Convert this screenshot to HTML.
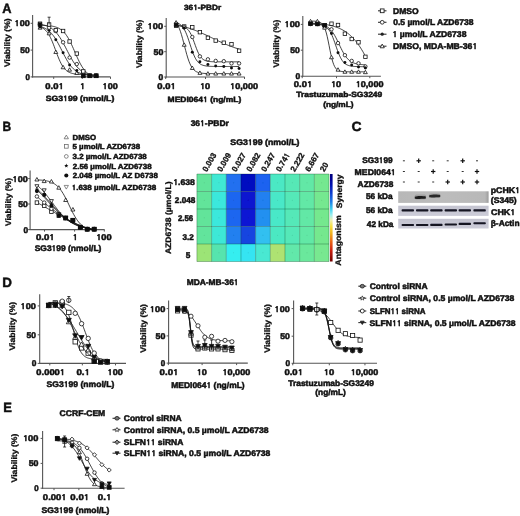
<!DOCTYPE html>
<html><head><meta charset="utf-8"><title>Figure</title>
<style>html,body{margin:0;padding:0;background:#fff;}svg{display:block;}
text{font-family:'Liberation Sans', Arial, sans-serif;font-weight:bold;stroke:#111;stroke-width:0.3px;text-rendering:geometricPrecision;}
.o{font-family:'NanumGothic','Liberation Sans',sans-serif;font-size:0.92em;}</style></head>
<body><svg width="520" height="516" viewBox="0 0 520 516">
<defs><filter id="soft" x="0" y="0" width="100%" height="100%"><feGaussianBlur stdDeviation="0.35"/></filter></defs>
<g filter="url(#soft)">
<rect width="520" height="516" fill="#fff"/>
<text id="t0" x="2.36" y="12.55" font-size="13.4" textLength="9.28" lengthAdjust="spacingAndGlyphs" fill="#111" style="stroke-width:0.45px">A</text>
<text id="t1" x="2.51" y="130.65" font-size="13.4" textLength="8.66" lengthAdjust="spacingAndGlyphs" fill="#111" style="stroke-width:0.45px">B</text>
<text id="t2" x="351.50" y="130.65" font-size="13.4" textLength="10.03" lengthAdjust="spacingAndGlyphs" fill="#111" style="stroke-width:0.45px">C</text>
<text id="t3" x="2.17" y="286.95" font-size="13.4" textLength="9.66" lengthAdjust="spacingAndGlyphs" fill="#111" style="stroke-width:0.45px">D</text>
<text id="t4" x="3.23" y="412.25" font-size="13.4" textLength="8.66" lengthAdjust="spacingAndGlyphs" fill="#111" style="stroke-width:0.45px">E</text>
<line x1="32.60" y1="15.00" x2="32.60" y2="77.40" stroke="#555" stroke-width="1.1"/>
<line x1="32.10" y1="76.90" x2="110.50" y2="76.90" stroke="#555" stroke-width="1.1"/>
<line x1="30.60" y1="23.30" x2="32.60" y2="23.30" stroke="#555" stroke-width="1.0"/>
<text id="t5" x="14.60" y="26.38" font-size="8.3" textLength="15.11" lengthAdjust="spacingAndGlyphs" fill="#111" style="stroke-width:0.5px"><tspan class="o">1</tspan>00</text>
<line x1="30.60" y1="50.10" x2="32.60" y2="50.10" stroke="#555" stroke-width="1.0"/>
<text id="t6" x="20.21" y="53.18" font-size="8.3" textLength="9.39" lengthAdjust="spacingAndGlyphs" fill="#111" style="stroke-width:0.5px">50</text>
<line x1="30.60" y1="76.90" x2="32.60" y2="76.90" stroke="#555" stroke-width="1.0"/>
<text id="t7" x="25.44" y="79.98" font-size="8.3" textLength="4.44" lengthAdjust="spacingAndGlyphs" fill="#111" style="stroke-width:0.5px">0</text>
<line x1="53.70" y1="76.90" x2="53.70" y2="78.90" stroke="#555" stroke-width="1.0"/>
<text id="t8" x="45.27" y="88.58" font-size="8.3" textLength="18.47" lengthAdjust="spacingAndGlyphs" fill="#111" style="stroke-width:0.5px">0.0<tspan class="o">1</tspan></text>
<line x1="82.30" y1="76.90" x2="82.30" y2="78.90" stroke="#555" stroke-width="1.0"/>
<text id="t9" x="79.91" y="88.58" font-size="8.3" textLength="5.06" lengthAdjust="spacingAndGlyphs" fill="#111" style="stroke-width:0.5px"><tspan class="o">1</tspan></text>
<line x1="110.50" y1="76.90" x2="110.50" y2="78.90" stroke="#555" stroke-width="1.0"/>
<text id="t10" x="102.64" y="88.58" font-size="8.3" textLength="15.12" lengthAdjust="spacingAndGlyphs" fill="#111" style="stroke-width:0.5px"><tspan class="o">1</tspan>00</text>
<path d="M40.00,26.90 L40.95,27.25 L41.91,27.67 L42.86,28.19 L43.81,28.81 L44.76,29.55 L45.72,30.44 L46.67,31.48 L47.62,32.71 L48.57,34.12 L49.53,35.75 L50.48,37.58 L51.43,39.62 L52.38,41.84 L53.34,44.23 L54.29,46.73 L55.24,49.31 L56.19,51.89 L57.15,54.44 L58.10,56.89 L59.05,59.20 L60.00,61.34 L60.96,63.28 L61.91,65.01 L62.86,66.53 L63.81,67.85 L64.77,68.98 L65.72,69.95 L66.67,70.76 L67.62,71.44 L68.58,72.01 L69.53,72.48 L70.48,72.87 L71.43,73.18 L72.39,73.44 L73.34,73.66 L74.29,73.83 L75.24,73.98 L76.20,74.09 L77.15,74.19 L78.10,74.26 L79.05,74.32 L80.01,74.37 L80.96,74.42 L81.91,74.45 L82.86,74.48 L83.82,74.50 L84.77,74.52 L85.72,74.53 L86.67,74.54 L87.63,74.55 L88.58,74.56 L89.53,74.57 L90.48,74.57 L91.44,74.57 L92.39,74.58 L93.34,74.58 L94.29,74.58 L95.25,74.58 L96.20,74.59" fill="none" stroke="#111" stroke-width="0.8"/>
<path d="M40.00,25.75 L41.95,29.16 L38.05,29.16 Z" fill="#fff" stroke="#111" stroke-width="0.8"/>
<path d="M49.10,31.45 L51.05,34.86 L47.15,34.86 Z" fill="#fff" stroke="#111" stroke-width="0.8"/>
<path d="M55.80,50.05 L57.75,53.46 L53.85,53.46 Z" fill="#fff" stroke="#111" stroke-width="0.8"/>
<path d="M63.10,65.35 L65.05,68.76 L61.15,68.76 Z" fill="#fff" stroke="#111" stroke-width="0.8"/>
<path d="M69.60,67.75 L71.55,71.16 L67.65,71.16 Z" fill="#fff" stroke="#111" stroke-width="0.8"/>
<path d="M76.80,71.05 L78.75,74.46 L74.85,74.46 Z" fill="#fff" stroke="#111" stroke-width="0.8"/>
<path d="M83.30,73.45 L85.25,76.86 L81.35,76.86 Z" fill="#fff" stroke="#111" stroke-width="0.8"/>
<path d="M89.80,73.75 L91.75,77.16 L87.85,77.16 Z" fill="#fff" stroke="#111" stroke-width="0.8"/>
<path d="M96.20,73.75 L98.15,77.16 L94.25,77.16 Z" fill="#fff" stroke="#111" stroke-width="0.8"/>
<path d="M40.00,26.47 L40.95,26.72 L41.91,27.02 L42.86,27.35 L43.81,27.74 L44.76,28.18 L45.72,28.68 L46.67,29.24 L47.62,29.88 L48.57,30.60 L49.53,31.41 L50.48,32.31 L51.43,33.32 L52.38,34.42 L53.34,35.64 L54.29,36.96 L55.24,38.39 L56.19,39.92 L57.15,41.55 L58.10,43.27 L59.05,45.05 L60.00,46.90 L60.96,48.78 L61.91,50.68 L62.86,52.57 L63.81,54.45 L64.77,56.28 L65.72,58.04 L66.67,59.73 L67.62,61.34 L68.58,62.84 L69.53,64.24 L70.48,65.53 L71.43,66.72 L72.39,67.79 L73.34,68.77 L74.29,69.64 L75.24,70.42 L76.20,71.12 L77.15,71.74 L78.10,72.28 L79.05,72.76 L80.01,73.19 L80.96,73.56 L81.91,73.88 L82.86,74.16 L83.82,74.41 L84.77,74.62 L85.72,74.81 L86.67,74.97 L87.63,75.11 L88.58,75.23 L89.53,75.34 L90.48,75.43 L91.44,75.51 L92.39,75.57 L93.34,75.63 L94.29,75.68 L95.25,75.73 L96.20,75.77" fill="none" stroke="#111" stroke-width="0.8"/>
<circle cx="40.00" cy="26.90" r="1.48" fill="#111"/>
<circle cx="49.10" cy="30.20" r="1.48" fill="#111"/>
<circle cx="55.80" cy="39.80" r="1.48" fill="#111"/>
<circle cx="63.10" cy="52.80" r="1.48" fill="#111"/>
<circle cx="69.60" cy="64.90" r="1.48" fill="#111"/>
<circle cx="76.80" cy="70.50" r="1.48" fill="#111"/>
<circle cx="83.30" cy="74.60" r="1.48" fill="#111"/>
<circle cx="89.80" cy="75.70" r="1.48" fill="#111"/>
<circle cx="96.20" cy="75.70" r="1.48" fill="#111"/>
<path d="M40.00,24.37 L40.95,24.52 L41.91,24.69 L42.86,24.88 L43.81,25.11 L44.76,25.36 L45.72,25.65 L46.67,25.98 L47.62,26.35 L48.57,26.77 L49.53,27.24 L50.48,27.78 L51.43,28.38 L52.38,29.05 L53.34,29.80 L54.29,30.64 L55.24,31.56 L56.19,32.58 L57.15,33.69 L58.10,34.90 L59.05,36.21 L60.00,37.63 L60.96,39.13 L61.91,40.72 L62.86,42.39 L63.81,44.13 L64.77,45.92 L65.72,47.75 L66.67,49.60 L67.62,51.46 L68.58,53.30 L69.53,55.11 L70.48,56.86 L71.43,58.56 L72.39,60.18 L73.34,61.72 L74.29,63.16 L75.24,64.51 L76.20,65.76 L77.15,66.91 L78.10,67.96 L79.05,68.91 L80.01,69.78 L80.96,70.56 L81.91,71.26 L82.86,71.89 L83.82,72.44 L84.77,72.94 L85.72,73.38 L86.67,73.77 L87.63,74.11 L88.58,74.41 L89.53,74.68 L90.48,74.91 L91.44,75.11 L92.39,75.29 L93.34,75.45 L94.29,75.59 L95.25,75.71 L96.20,75.81" fill="none" stroke="#111" stroke-width="0.8"/>
<circle cx="40.00" cy="24.50" r="1.72" fill="#fff" stroke="#111" stroke-width="0.8"/>
<circle cx="49.10" cy="27.70" r="1.72" fill="#fff" stroke="#111" stroke-width="0.8"/>
<circle cx="55.80" cy="31.00" r="1.72" fill="#fff" stroke="#111" stroke-width="0.8"/>
<circle cx="63.10" cy="42.30" r="1.72" fill="#fff" stroke="#111" stroke-width="0.8"/>
<circle cx="69.60" cy="57.60" r="1.72" fill="#fff" stroke="#111" stroke-width="0.8"/>
<circle cx="76.80" cy="64.10" r="1.72" fill="#fff" stroke="#111" stroke-width="0.8"/>
<circle cx="83.30" cy="72.20" r="1.72" fill="#fff" stroke="#111" stroke-width="0.8"/>
<circle cx="89.80" cy="75.70" r="1.72" fill="#fff" stroke="#111" stroke-width="0.8"/>
<circle cx="96.20" cy="75.70" r="1.72" fill="#fff" stroke="#111" stroke-width="0.8"/>
<path d="M40.00,25.24 L40.95,25.26 L41.91,25.29 L42.86,25.32 L43.81,25.36 L44.76,25.40 L45.72,25.46 L46.67,25.52 L47.62,25.59 L48.57,25.68 L49.53,25.78 L50.48,25.90 L51.43,26.04 L52.38,26.20 L53.34,26.39 L54.29,26.61 L55.24,26.87 L56.19,27.18 L57.15,27.53 L58.10,27.94 L59.05,28.41 L60.00,28.96 L60.96,29.59 L61.91,30.31 L62.86,31.14 L63.81,32.08 L64.77,33.13 L65.72,34.32 L66.67,35.64 L67.62,37.10 L68.58,38.70 L69.53,40.44 L70.48,42.29 L71.43,44.27 L72.39,46.33 L73.34,48.47 L74.29,50.65 L75.24,52.85 L76.20,55.04 L77.15,57.19 L78.10,59.26 L79.05,61.25 L80.01,63.13 L80.96,64.88 L81.91,66.50 L82.86,67.98 L83.82,69.32 L84.77,70.52 L85.72,71.60 L86.67,72.55 L87.63,73.39 L88.58,74.13 L89.53,74.77 L90.48,75.33 L91.44,75.82 L92.39,76.24 L93.34,76.60 L94.29,76.91 L95.25,77.17 L96.20,77.40" fill="none" stroke="#111" stroke-width="0.8"/>
<rect x="38.28" y="21.98" width="3.43" height="3.43" fill="#fff" stroke="#111" stroke-width="0.8"/>
<rect x="47.38" y="22.78" width="3.43" height="3.43" fill="#fff" stroke="#111" stroke-width="0.8"/>
<rect x="54.08" y="28.48" width="3.43" height="3.43" fill="#fff" stroke="#111" stroke-width="0.8"/>
<rect x="61.38" y="29.28" width="3.43" height="3.43" fill="#fff" stroke="#111" stroke-width="0.8"/>
<rect x="67.88" y="39.78" width="3.43" height="3.43" fill="#fff" stroke="#111" stroke-width="0.8"/>
<rect x="75.08" y="51.88" width="3.43" height="3.43" fill="#fff" stroke="#111" stroke-width="0.8"/>
<rect x="81.58" y="69.68" width="3.43" height="3.43" fill="#fff" stroke="#111" stroke-width="0.8"/>
<rect x="88.08" y="73.98" width="3.43" height="3.43" fill="#fff" stroke="#111" stroke-width="0.8"/>
<rect x="94.48" y="73.98" width="3.43" height="3.43" fill="#fff" stroke="#111" stroke-width="0.8"/>
<line x1="49.10" y1="17.20" x2="49.10" y2="24.50" stroke="#111" stroke-width="0.8"/>
<line x1="47.60" y1="17.20" x2="50.60" y2="17.20" stroke="#111" stroke-width="0.8"/>
<rect x="81.43" y="73.93" width="3.74" height="3.74" fill="#111" stroke="#111" stroke-width="0.8"/>
<rect x="87.93" y="73.93" width="3.74" height="3.74" fill="#111" stroke="#111" stroke-width="0.8"/>
<rect x="94.33" y="73.93" width="3.74" height="3.74" fill="#111" stroke="#111" stroke-width="0.8"/>
<text id="t11" x="45.69" y="101.47" font-size="7.6" textLength="68.62" lengthAdjust="spacingAndGlyphs" fill="#111" style="stroke-width:0.5px">SG3<tspan class="o">1</tspan>99 (nmol/L)</text>
<text id="t12" x="0" y="0" font-size="8.0" textLength="48.77" lengthAdjust="spacingAndGlyphs" fill="#111" style="stroke-width:0.3px" transform="translate(9.83,67.06) rotate(-90)">Viability (%)</text>
<line x1="166.20" y1="18.00" x2="166.20" y2="77.50" stroke="#555" stroke-width="1.1"/>
<line x1="165.70" y1="77.00" x2="244.70" y2="77.00" stroke="#555" stroke-width="1.1"/>
<line x1="164.20" y1="26.30" x2="166.20" y2="26.30" stroke="#555" stroke-width="1.0"/>
<text id="t13" x="147.64" y="29.38" font-size="8.3" textLength="15.49" lengthAdjust="spacingAndGlyphs" fill="#111" style="stroke-width:0.5px"><tspan class="o">1</tspan>00</text>
<line x1="164.20" y1="51.70" x2="166.20" y2="51.70" stroke="#555" stroke-width="1.0"/>
<text id="t14" x="153.46" y="54.78" font-size="8.3" textLength="9.91" lengthAdjust="spacingAndGlyphs" fill="#111" style="stroke-width:0.5px">50</text>
<line x1="164.20" y1="77.00" x2="166.20" y2="77.00" stroke="#555" stroke-width="1.0"/>
<text id="t15" x="158.60" y="80.08" font-size="8.3" textLength="4.75" lengthAdjust="spacingAndGlyphs" fill="#111" style="stroke-width:0.5px">0</text>
<line x1="165.70" y1="77.00" x2="165.70" y2="79.00" stroke="#555" stroke-width="1.0"/>
<text id="t16" x="157.27" y="88.58" font-size="8.3" textLength="18.47" lengthAdjust="spacingAndGlyphs" fill="#111" style="stroke-width:0.5px">0.0<tspan class="o">1</tspan></text>
<line x1="205.50" y1="77.00" x2="205.50" y2="79.00" stroke="#555" stroke-width="1.0"/>
<text id="t17" x="199.91" y="88.58" font-size="8.3" textLength="10.33" lengthAdjust="spacingAndGlyphs" fill="#111" style="stroke-width:0.5px"><tspan class="o">1</tspan>0</text>
<line x1="244.50" y1="77.00" x2="244.50" y2="79.00" stroke="#555" stroke-width="1.0"/>
<text id="t18" x="230.14" y="88.58" font-size="8.3" textLength="28.03" lengthAdjust="spacingAndGlyphs" fill="#111" style="stroke-width:0.5px"><tspan class="o">1</tspan>0,000</text>
<path d="M176.10,24.77 L177.17,24.99 L178.24,25.23 L179.30,25.47 L180.37,25.72 L181.44,25.98 L182.51,26.25 L183.57,26.54 L184.64,26.83 L185.71,27.14 L186.78,27.46 L187.85,27.79 L188.91,28.13 L189.98,28.49 L191.05,28.85 L192.12,29.23 L193.18,29.61 L194.25,30.01 L195.32,30.42 L196.39,30.84 L197.46,31.27 L198.52,31.72 L199.59,32.17 L200.66,32.63 L201.73,33.09 L202.79,33.57 L203.86,34.05 L204.93,34.54 L206.00,35.04 L207.07,35.54 L208.13,36.05 L209.20,36.56 L210.27,37.07 L211.34,37.58 L212.41,38.10 L213.47,38.61 L214.54,39.13 L215.61,39.64 L216.68,40.15 L217.74,40.66 L218.81,41.16 L219.88,41.66 L220.95,42.15 L222.02,42.63 L223.08,43.11 L224.15,43.58 L225.22,44.05 L226.29,44.50 L227.35,44.94 L228.42,45.38 L229.49,45.80 L230.56,46.21 L231.63,46.61 L232.69,47.01 L233.76,47.38 L234.83,47.75 L235.90,48.11 L236.96,48.45 L238.03,48.79 L239.10,49.11" fill="none" stroke="#111" stroke-width="0.8"/>
<rect x="174.38" y="23.98" width="3.43" height="3.43" fill="#fff" stroke="#111" stroke-width="0.8"/>
<rect x="182.48" y="24.78" width="3.43" height="3.43" fill="#fff" stroke="#111" stroke-width="0.8"/>
<rect x="190.58" y="25.58" width="3.43" height="3.43" fill="#fff" stroke="#111" stroke-width="0.8"/>
<rect x="198.18" y="30.48" width="3.43" height="3.43" fill="#fff" stroke="#111" stroke-width="0.8"/>
<rect x="206.18" y="36.08" width="3.43" height="3.43" fill="#fff" stroke="#111" stroke-width="0.8"/>
<rect x="213.98" y="38.88" width="3.43" height="3.43" fill="#fff" stroke="#111" stroke-width="0.8"/>
<rect x="222.08" y="40.98" width="3.43" height="3.43" fill="#fff" stroke="#111" stroke-width="0.8"/>
<rect x="229.78" y="42.58" width="3.43" height="3.43" fill="#fff" stroke="#111" stroke-width="0.8"/>
<rect x="237.38" y="48.98" width="3.43" height="3.43" fill="#fff" stroke="#111" stroke-width="0.8"/>
<path d="M176.10,25.84 L177.17,25.89 L178.24,25.95 L179.30,26.03 L180.37,26.14 L181.44,26.30 L182.51,26.52 L183.57,26.81 L184.64,27.22 L185.71,27.78 L186.78,28.52 L187.85,29.51 L188.91,30.79 L189.98,32.42 L191.05,34.42 L192.12,36.80 L193.18,39.51 L194.25,42.44 L195.32,45.44 L196.39,48.35 L197.46,51.03 L198.52,53.38 L199.59,55.34 L200.66,56.94 L201.73,58.19 L202.79,59.15 L203.86,59.87 L204.93,60.41 L206.00,60.81 L207.07,61.10 L208.13,61.31 L209.20,61.46 L210.27,61.57 L211.34,61.65 L212.41,61.71 L213.47,61.75 L214.54,61.78 L215.61,61.80 L216.68,61.82 L217.74,61.83 L218.81,61.83 L219.88,61.84 L220.95,61.84 L222.02,61.85 L223.08,61.85 L224.15,61.85 L225.22,61.85 L226.29,61.85 L227.35,61.85 L228.42,61.85 L229.49,61.85 L230.56,61.85 L231.63,61.85 L232.69,61.85 L233.76,61.85 L234.83,61.85 L235.90,61.85 L236.96,61.85 L238.03,61.85 L239.10,61.85" fill="none" stroke="#111" stroke-width="0.8"/>
<circle cx="176.10" cy="25.70" r="1.72" fill="#fff" stroke="#111" stroke-width="0.8"/>
<circle cx="184.20" cy="27.30" r="1.72" fill="#fff" stroke="#111" stroke-width="0.8"/>
<circle cx="192.30" cy="37.00" r="1.72" fill="#fff" stroke="#111" stroke-width="0.8"/>
<circle cx="199.90" cy="56.40" r="1.72" fill="#fff" stroke="#111" stroke-width="0.8"/>
<circle cx="207.90" cy="59.30" r="1.72" fill="#fff" stroke="#111" stroke-width="0.8"/>
<circle cx="215.70" cy="60.90" r="1.72" fill="#fff" stroke="#111" stroke-width="0.8"/>
<circle cx="223.80" cy="61.20" r="1.72" fill="#fff" stroke="#111" stroke-width="0.8"/>
<circle cx="231.50" cy="63.40" r="1.72" fill="#fff" stroke="#111" stroke-width="0.8"/>
<circle cx="239.10" cy="63.40" r="1.72" fill="#fff" stroke="#111" stroke-width="0.8"/>
<path d="M176.10,22.62 L177.17,22.93 L178.24,23.35 L179.30,23.91 L180.37,24.62 L181.44,25.55 L182.51,26.74 L183.57,28.22 L184.64,30.05 L185.71,32.25 L186.78,34.81 L187.85,37.71 L188.91,40.86 L189.98,44.14 L191.05,47.42 L192.12,50.56 L193.18,53.44 L194.25,55.99 L195.32,58.18 L196.39,59.99 L197.46,61.46 L198.52,62.64 L199.59,63.56 L200.66,64.27 L201.73,64.81 L202.79,65.23 L203.86,65.54 L204.93,65.78 L206.00,65.96 L207.07,66.09 L208.13,66.19 L209.20,66.27 L210.27,66.32 L211.34,66.37 L212.41,66.40 L213.47,66.42 L214.54,66.44 L215.61,66.45 L216.68,66.46 L217.74,66.47 L218.81,66.47 L219.88,66.48 L220.95,66.48 L222.02,66.48 L223.08,66.48 L224.15,66.48 L225.22,66.48 L226.29,66.49 L227.35,66.49 L228.42,66.49 L229.49,66.49 L230.56,66.49 L231.63,66.49 L232.69,66.49 L233.76,66.49 L234.83,66.49 L235.90,66.49 L236.96,66.49 L238.03,66.49 L239.10,66.49" fill="none" stroke="#111" stroke-width="0.8"/>
<circle cx="176.10" cy="23.30" r="1.48" fill="#111"/>
<circle cx="184.20" cy="28.10" r="1.48" fill="#111"/>
<circle cx="192.30" cy="52.30" r="1.48" fill="#111"/>
<circle cx="199.90" cy="61.70" r="1.48" fill="#111"/>
<circle cx="207.90" cy="64.60" r="1.48" fill="#111"/>
<circle cx="215.70" cy="65.90" r="1.48" fill="#111"/>
<circle cx="223.80" cy="66.40" r="1.48" fill="#111"/>
<circle cx="231.50" cy="68.00" r="1.48" fill="#111"/>
<circle cx="239.10" cy="68.50" r="1.48" fill="#111"/>
<path d="M176.10,22.50 L177.17,24.06 L178.24,26.02 L179.30,28.41 L180.37,31.28 L181.44,34.61 L182.51,38.35 L183.57,42.37 L184.64,46.52 L185.71,50.64 L186.78,54.53 L187.85,58.08 L188.91,61.19 L189.98,63.82 L191.05,66.00 L192.12,67.75 L193.18,69.13 L194.25,70.22 L195.32,71.05 L196.39,71.69 L197.46,72.17 L198.52,72.54 L199.59,72.81 L200.66,73.02 L201.73,73.17 L202.79,73.29 L203.86,73.37 L204.93,73.44 L206.00,73.48 L207.07,73.52 L208.13,73.54 L209.20,73.56 L210.27,73.58 L211.34,73.59 L212.41,73.60 L213.47,73.60 L214.54,73.61 L215.61,73.61 L216.68,73.61 L217.74,73.62 L218.81,73.62 L219.88,73.62 L220.95,73.62 L222.02,73.62 L223.08,73.62 L224.15,73.62 L225.22,73.62 L226.29,73.62 L227.35,73.62 L228.42,73.62 L229.49,73.62 L230.56,73.62 L231.63,73.62 L232.69,73.62 L233.76,73.62 L234.83,73.62 L235.90,73.62 L236.96,73.62 L238.03,73.62 L239.10,73.62" fill="none" stroke="#111" stroke-width="0.8"/>
<path d="M176.10,20.55 L178.05,23.96 L174.15,23.96 Z" fill="#fff" stroke="#111" stroke-width="0.8"/>
<path d="M184.20,42.85 L186.15,46.26 L182.25,46.26 Z" fill="#fff" stroke="#111" stroke-width="0.8"/>
<path d="M192.30,66.05 L194.25,69.46 L190.35,69.46 Z" fill="#fff" stroke="#111" stroke-width="0.8"/>
<path d="M199.90,70.95 L201.85,74.36 L197.95,74.36 Z" fill="#fff" stroke="#111" stroke-width="0.8"/>
<path d="M207.90,71.65 L209.85,75.06 L205.95,75.06 Z" fill="#fff" stroke="#111" stroke-width="0.8"/>
<path d="M215.70,71.65 L217.65,75.06 L213.75,75.06 Z" fill="#fff" stroke="#111" stroke-width="0.8"/>
<path d="M223.80,71.65 L225.75,75.06 L221.85,75.06 Z" fill="#fff" stroke="#111" stroke-width="0.8"/>
<path d="M231.50,71.65 L233.45,75.06 L229.55,75.06 Z" fill="#fff" stroke="#111" stroke-width="0.8"/>
<path d="M239.10,71.65 L241.05,75.06 L237.15,75.06 Z" fill="#fff" stroke="#111" stroke-width="0.8"/>
<text id="t19" x="167.63" y="102.07" font-size="7.6" textLength="73.70" lengthAdjust="spacingAndGlyphs" fill="#111" style="stroke-width:0.5px">MEDI064<tspan class="o">1</tspan> (ng/mL)</text>
<text id="t20" x="0" y="0" font-size="8.0" textLength="48.35" lengthAdjust="spacingAndGlyphs" fill="#111" style="stroke-width:0.3px" transform="translate(141.73,68.06) rotate(-90)">Viability (%)</text>
<text id="t21" x="184.03" y="10.47" font-size="7.6" textLength="37.22" lengthAdjust="spacingAndGlyphs" fill="#111" style="stroke-width:0.5px">36<tspan class="o">1</tspan>-PBDr</text>
<line x1="302.80" y1="16.10" x2="302.80" y2="76.70" stroke="#555" stroke-width="1.1"/>
<line x1="302.30" y1="76.20" x2="380.90" y2="76.20" stroke="#555" stroke-width="1.1"/>
<line x1="300.80" y1="24.40" x2="302.80" y2="24.40" stroke="#555" stroke-width="1.0"/>
<text id="t22" x="284.48" y="27.48" font-size="8.3" textLength="15.50" lengthAdjust="spacingAndGlyphs" fill="#111" style="stroke-width:0.5px"><tspan class="o">1</tspan>00</text>
<line x1="300.80" y1="50.20" x2="302.80" y2="50.20" stroke="#555" stroke-width="1.0"/>
<text id="t23" x="290.32" y="53.28" font-size="8.3" textLength="9.55" lengthAdjust="spacingAndGlyphs" fill="#111" style="stroke-width:0.5px">50</text>
<line x1="300.80" y1="76.20" x2="302.80" y2="76.20" stroke="#555" stroke-width="1.0"/>
<text id="t24" x="295.41" y="79.28" font-size="8.3" textLength="4.76" lengthAdjust="spacingAndGlyphs" fill="#111" style="stroke-width:0.5px">0</text>
<line x1="302.20" y1="76.20" x2="302.20" y2="78.20" stroke="#555" stroke-width="1.0"/>
<text id="t25" x="293.81" y="86.58" font-size="8.3" textLength="18.36" lengthAdjust="spacingAndGlyphs" fill="#111" style="stroke-width:0.5px">0.0<tspan class="o">1</tspan></text>
<line x1="336.50" y1="76.20" x2="336.50" y2="78.20" stroke="#555" stroke-width="1.0"/>
<text id="t26" x="330.91" y="86.58" font-size="8.3" textLength="10.33" lengthAdjust="spacingAndGlyphs" fill="#111" style="stroke-width:0.5px"><tspan class="o">1</tspan>0</text>
<line x1="369.80" y1="76.20" x2="369.80" y2="78.20" stroke="#555" stroke-width="1.0"/>
<text id="t27" x="355.67" y="86.58" font-size="8.3" textLength="27.86" lengthAdjust="spacingAndGlyphs" fill="#111" style="stroke-width:0.5px"><tspan class="o">1</tspan>0,000</text>
<path d="M310.50,23.10 L311.43,23.14 L312.36,23.20 L313.29,23.25 L314.22,23.31 L315.15,23.38 L316.08,23.45 L317.01,23.52 L317.94,23.60 L318.87,23.69 L319.81,23.78 L320.74,23.88 L321.67,23.99 L322.60,24.10 L323.53,24.23 L324.46,24.36 L325.39,24.50 L326.32,24.65 L327.25,24.81 L328.18,24.99 L329.11,25.18 L330.04,25.38 L330.97,25.59 L331.90,25.82 L332.83,26.06 L333.76,26.33 L334.69,26.61 L335.62,26.91 L336.55,27.23 L337.48,27.57 L338.42,27.94 L339.35,28.33 L340.28,28.75 L341.21,29.20 L342.14,29.68 L343.07,30.18 L344.00,30.72 L344.93,31.30 L345.86,31.91 L346.79,32.56 L347.72,33.25 L348.65,33.98 L349.58,34.76 L350.51,35.58 L351.44,36.45 L352.37,37.37 L353.30,38.35 L354.23,39.37 L355.16,40.45 L356.09,41.59 L357.03,42.78 L357.96,44.03 L358.89,45.34 L359.82,46.71 L360.75,48.14 L361.68,49.64 L362.61,51.19 L363.54,52.80 L364.47,54.47 L365.40,56.20" fill="none" stroke="#111" stroke-width="0.8"/>
<rect x="308.78" y="21.98" width="3.43" height="3.43" fill="#fff" stroke="#111" stroke-width="0.8"/>
<rect x="315.68" y="22.28" width="3.43" height="3.43" fill="#fff" stroke="#111" stroke-width="0.8"/>
<rect x="322.88" y="23.58" width="3.43" height="3.43" fill="#fff" stroke="#111" stroke-width="0.8"/>
<rect x="329.78" y="21.98" width="3.43" height="3.43" fill="#fff" stroke="#111" stroke-width="0.8"/>
<rect x="336.28" y="23.28" width="3.43" height="3.43" fill="#fff" stroke="#111" stroke-width="0.8"/>
<rect x="343.18" y="31.98" width="3.43" height="3.43" fill="#fff" stroke="#111" stroke-width="0.8"/>
<rect x="349.98" y="37.28" width="3.43" height="3.43" fill="#fff" stroke="#111" stroke-width="0.8"/>
<rect x="356.78" y="40.58" width="3.43" height="3.43" fill="#fff" stroke="#111" stroke-width="0.8"/>
<rect x="363.68" y="55.08" width="3.43" height="3.43" fill="#fff" stroke="#111" stroke-width="0.8"/>
<path d="M310.50,23.55 L311.43,23.58 L312.36,23.61 L313.29,23.65 L314.22,23.69 L315.15,23.75 L316.08,23.81 L317.01,23.89 L317.94,23.98 L318.87,24.10 L319.81,24.23 L320.74,24.40 L321.67,24.59 L322.60,24.82 L323.53,25.10 L324.46,25.44 L325.39,25.83 L326.32,26.30 L327.25,26.85 L328.18,27.49 L329.11,28.24 L330.04,29.10 L330.97,30.10 L331.90,31.23 L332.83,32.50 L333.76,33.92 L334.69,35.48 L335.62,37.16 L336.55,38.96 L337.48,40.84 L338.42,42.79 L339.35,44.76 L340.28,46.71 L341.21,48.63 L342.14,50.47 L343.07,52.21 L344.00,53.82 L344.93,55.30 L345.86,56.64 L346.79,57.83 L347.72,58.89 L348.65,59.81 L349.58,60.61 L350.51,61.30 L351.44,61.89 L352.37,62.39 L353.30,62.81 L354.23,63.17 L355.16,63.47 L356.09,63.73 L357.03,63.94 L357.96,64.12 L358.89,64.26 L359.82,64.39 L360.75,64.49 L361.68,64.57 L362.61,64.64 L363.54,64.70 L364.47,64.75 L365.40,64.79" fill="none" stroke="#111" stroke-width="0.8"/>
<circle cx="310.50" cy="24.00" r="1.72" fill="#fff" stroke="#111" stroke-width="0.8"/>
<circle cx="317.40" cy="24.00" r="1.72" fill="#fff" stroke="#111" stroke-width="0.8"/>
<circle cx="324.60" cy="25.60" r="1.72" fill="#fff" stroke="#111" stroke-width="0.8"/>
<circle cx="331.50" cy="29.30" r="1.72" fill="#fff" stroke="#111" stroke-width="0.8"/>
<circle cx="338.00" cy="43.10" r="1.72" fill="#fff" stroke="#111" stroke-width="0.8"/>
<circle cx="344.90" cy="55.20" r="1.72" fill="#fff" stroke="#111" stroke-width="0.8"/>
<circle cx="351.70" cy="60.90" r="1.72" fill="#fff" stroke="#111" stroke-width="0.8"/>
<circle cx="358.50" cy="63.30" r="1.72" fill="#fff" stroke="#111" stroke-width="0.8"/>
<circle cx="365.40" cy="66.50" r="1.72" fill="#fff" stroke="#111" stroke-width="0.8"/>
<path d="M310.50,24.26 L311.43,24.28 L312.36,24.29 L313.29,24.31 L314.22,24.34 L315.15,24.37 L316.08,24.41 L317.01,24.47 L317.94,24.54 L318.87,24.64 L319.81,24.75 L320.74,24.91 L321.67,25.10 L322.60,25.35 L323.53,25.67 L324.46,26.07 L325.39,26.58 L326.32,27.21 L327.25,28.00 L328.18,28.98 L329.11,30.16 L330.04,31.59 L330.97,33.27 L331.90,35.21 L332.83,37.41 L333.76,39.83 L334.69,42.42 L335.62,45.11 L336.55,47.80 L337.48,50.43 L338.42,52.90 L339.35,55.16 L340.28,57.18 L341.21,58.93 L342.14,60.42 L343.07,61.67 L344.00,62.70 L344.93,63.53 L345.86,64.21 L346.79,64.75 L347.72,65.17 L348.65,65.51 L349.58,65.78 L350.51,65.99 L351.44,66.15 L352.37,66.28 L353.30,66.37 L354.23,66.45 L355.16,66.51 L356.09,66.56 L357.03,66.59 L357.96,66.62 L358.89,66.64 L359.82,66.66 L360.75,66.67 L361.68,66.68 L362.61,66.69 L363.54,66.70 L364.47,66.70 L365.40,66.71" fill="none" stroke="#111" stroke-width="0.8"/>
<circle cx="310.50" cy="24.00" r="1.48" fill="#111"/>
<circle cx="317.40" cy="24.50" r="1.48" fill="#111"/>
<circle cx="324.60" cy="26.90" r="1.48" fill="#111"/>
<circle cx="331.50" cy="33.40" r="1.48" fill="#111"/>
<circle cx="338.00" cy="52.80" r="1.48" fill="#111"/>
<circle cx="344.90" cy="62.50" r="1.48" fill="#111"/>
<circle cx="351.70" cy="64.90" r="1.48" fill="#111"/>
<circle cx="358.50" cy="67.00" r="1.48" fill="#111"/>
<circle cx="365.40" cy="68.10" r="1.48" fill="#111"/>
<path d="M310.50,21.06 L311.43,21.07 L312.36,21.09 L313.29,21.12 L314.22,21.15 L315.15,21.21 L316.08,21.29 L317.01,21.40 L317.94,21.57 L318.87,21.81 L319.81,22.15 L320.74,22.64 L321.67,23.34 L322.60,24.31 L323.53,25.66 L324.46,27.49 L325.39,29.90 L326.32,32.98 L327.25,36.72 L328.18,41.02 L329.11,45.68 L330.04,50.39 L330.97,54.83 L331.90,58.76 L332.83,62.05 L333.76,64.66 L334.69,66.66 L335.62,68.15 L336.55,69.23 L337.48,70.00 L338.42,70.55 L339.35,70.93 L340.28,71.20 L341.21,71.38 L342.14,71.51 L343.07,71.60 L344.00,71.66 L344.93,71.70 L345.86,71.73 L346.79,71.75 L347.72,71.77 L348.65,71.78 L349.58,71.78 L350.51,71.79 L351.44,71.79 L352.37,71.79 L353.30,71.79 L354.23,71.79 L355.16,71.80 L356.09,71.80 L357.03,71.80 L357.96,71.80 L358.89,71.80 L359.82,71.80 L360.75,71.80 L361.68,71.80 L362.61,71.80 L363.54,71.80 L364.47,71.80 L365.40,71.80" fill="none" stroke="#111" stroke-width="0.8"/>
<path d="M310.50,19.35 L312.45,22.76 L308.55,22.76 Z" fill="#fff" stroke="#111" stroke-width="0.8"/>
<path d="M317.40,19.35 L319.35,22.76 L315.45,22.76 Z" fill="#fff" stroke="#111" stroke-width="0.8"/>
<path d="M324.60,25.75 L326.55,29.16 L322.65,29.16 Z" fill="#fff" stroke="#111" stroke-width="0.8"/>
<path d="M331.50,55.35 L333.45,58.76 L329.55,58.76 Z" fill="#fff" stroke="#111" stroke-width="0.8"/>
<path d="M338.00,67.75 L339.95,71.16 L336.05,71.16 Z" fill="#fff" stroke="#111" stroke-width="0.8"/>
<path d="M344.90,69.85 L346.85,73.26 L342.95,73.26 Z" fill="#fff" stroke="#111" stroke-width="0.8"/>
<path d="M351.70,69.85 L353.65,73.26 L349.75,73.26 Z" fill="#fff" stroke="#111" stroke-width="0.8"/>
<path d="M358.50,69.85 L360.45,73.26 L356.55,73.26 Z" fill="#fff" stroke="#111" stroke-width="0.8"/>
<path d="M365.40,70.25 L367.35,73.66 L363.45,73.66 Z" fill="#fff" stroke="#111" stroke-width="0.8"/>
<text id="t28" x="296.21" y="97.47" font-size="7.6" textLength="86.07" lengthAdjust="spacingAndGlyphs" fill="#111" style="stroke-width:0.5px">Trastuzumab-SG3249</text>
<text id="t29" x="323.16" y="107.37" font-size="7.6" textLength="30.44" lengthAdjust="spacingAndGlyphs" fill="#111" style="stroke-width:0.5px">(ng/mL)</text>
<text id="t30" x="0" y="0" font-size="8.0" textLength="47.96" lengthAdjust="spacingAndGlyphs" fill="#111" style="stroke-width:0.3px" transform="translate(278.68,67.54) rotate(-90)">Viability (%)</text>
<line x1="378.00" y1="10.80" x2="386.50" y2="10.80" stroke="#333" stroke-width="1.1"/>
<rect x="380.33" y="8.93" width="3.74" height="3.74" fill="#fff" stroke="#222" stroke-width="0.9"/>
<text id="t31" x="392.96" y="13.95" font-size="8.4" textLength="25.67" lengthAdjust="spacingAndGlyphs" fill="#111" style="stroke-width:0.5px">DMSO</text>
<line x1="378.00" y1="22.30" x2="386.50" y2="22.30" stroke="#333" stroke-width="1.1"/>
<circle cx="382.20" cy="22.30" r="1.87" fill="#fff" stroke="#222" stroke-width="0.9"/>
<text id="t32" x="393.18" y="25.45" font-size="8.4" textLength="80.36" lengthAdjust="spacingAndGlyphs" fill="#111" style="stroke-width:0.5px">0.5 µmol/L AZD6738</text>
<line x1="378.00" y1="34.20" x2="386.50" y2="34.20" stroke="#333" stroke-width="1.1"/>
<circle cx="382.20" cy="34.20" r="1.61" fill="#222"/>
<text id="t33" x="392.46" y="37.35" font-size="8.4" textLength="74.02" lengthAdjust="spacingAndGlyphs" fill="#111" style="stroke-width:0.5px"><tspan class="o">1</tspan> µmol/L AZD6738</text>
<line x1="378.00" y1="46.20" x2="386.50" y2="46.20" stroke="#333" stroke-width="1.1"/>
<path d="M382.20,44.08 L384.32,47.79 L380.07,47.79 Z" fill="#fff" stroke="#222" stroke-width="0.9"/>
<text id="t34" x="392.92" y="49.35" font-size="8.4" textLength="84.36" lengthAdjust="spacingAndGlyphs" fill="#111" style="stroke-width:0.5px">DMSO, MDA-MB-36<tspan class="o">1</tspan></text>
<line x1="30.10" y1="170.50" x2="30.10" y2="230.10" stroke="#555" stroke-width="1.1"/>
<line x1="29.60" y1="229.60" x2="104.60" y2="229.60" stroke="#555" stroke-width="1.1"/>
<line x1="28.10" y1="178.60" x2="30.10" y2="178.60" stroke="#555" stroke-width="1.0"/>
<text id="t35" x="12.64" y="181.68" font-size="8.3" textLength="15.12" lengthAdjust="spacingAndGlyphs" fill="#111" style="stroke-width:0.5px"><tspan class="o">1</tspan>00</text>
<line x1="28.10" y1="204.00" x2="30.10" y2="204.00" stroke="#555" stroke-width="1.0"/>
<text id="t36" x="18.19" y="207.08" font-size="8.3" textLength="9.61" lengthAdjust="spacingAndGlyphs" fill="#111" style="stroke-width:0.5px">50</text>
<line x1="28.10" y1="229.60" x2="30.10" y2="229.60" stroke="#555" stroke-width="1.0"/>
<text id="t37" x="23.56" y="232.68" font-size="8.3" textLength="4.66" lengthAdjust="spacingAndGlyphs" fill="#111" style="stroke-width:0.5px">0</text>
<line x1="44.50" y1="229.60" x2="44.50" y2="231.60" stroke="#555" stroke-width="1.0"/>
<text id="t38" x="35.92" y="239.58" font-size="8.3" textLength="18.84" lengthAdjust="spacingAndGlyphs" fill="#111" style="stroke-width:0.5px">0.0<tspan class="o">1</tspan></text>
<line x1="74.60" y1="229.60" x2="74.60" y2="231.60" stroke="#555" stroke-width="1.0"/>
<text id="t39" x="72.69" y="239.58" font-size="8.3" textLength="4.87" lengthAdjust="spacingAndGlyphs" fill="#111" style="stroke-width:0.5px"><tspan class="o">1</tspan></text>
<line x1="104.30" y1="229.60" x2="104.30" y2="231.60" stroke="#555" stroke-width="1.0"/>
<text id="t40" x="96.19" y="239.58" font-size="8.3" textLength="15.55" lengthAdjust="spacingAndGlyphs" fill="#111" style="stroke-width:0.5px"><tspan class="o">1</tspan>00</text>
<path d="M36.90,179.87 L37.87,179.91 L38.84,179.96 L39.81,180.03 L40.78,180.10 L41.76,180.18 L42.73,180.28 L43.70,180.40 L44.67,180.53 L45.64,180.68 L46.61,180.87 L47.58,181.08 L48.55,181.32 L49.53,181.60 L50.50,181.93 L51.47,182.31 L52.44,182.75 L53.41,183.25 L54.38,183.82 L55.35,184.48 L56.32,185.22 L57.29,186.07 L58.27,187.02 L59.24,188.08 L60.21,189.26 L61.18,190.57 L62.15,192.00 L63.12,193.55 L64.09,195.22 L65.06,197.00 L66.04,198.86 L67.01,200.81 L67.98,202.81 L68.95,204.85 L69.92,206.89 L70.89,208.91 L71.86,210.88 L72.83,212.80 L73.81,214.62 L74.78,216.35 L75.75,217.96 L76.72,219.46 L77.69,220.83 L78.66,222.08 L79.63,223.20 L80.60,224.21 L81.57,225.11 L82.55,225.91 L83.52,226.61 L84.49,227.22 L85.46,227.76 L86.43,228.23 L87.40,228.64 L88.37,228.99 L89.34,229.30 L90.32,229.56 L91.29,229.79 L92.26,229.99 L93.23,230.16 L94.20,230.30" fill="none" stroke="#111" stroke-width="0.8"/>
<path d="M36.90,177.50 L38.90,181.00 L34.90,181.00 Z" fill="#fff" stroke="#111" stroke-width="0.8"/>
<path d="M44.20,179.10 L46.20,182.60 L42.20,182.60 Z" fill="#fff" stroke="#111" stroke-width="0.8"/>
<path d="M51.40,179.50 L53.40,183.00 L49.40,183.00 Z" fill="#fff" stroke="#111" stroke-width="0.8"/>
<path d="M58.80,185.70 L60.80,189.20 L56.80,189.20 Z" fill="#fff" stroke="#111" stroke-width="0.8"/>
<path d="M65.70,198.00 L67.70,201.50 L63.70,201.50 Z" fill="#fff" stroke="#111" stroke-width="0.8"/>
<path d="M72.90,207.50 L74.90,211.00 L70.90,211.00 Z" fill="#fff" stroke="#111" stroke-width="0.8"/>
<path d="M80.30,225.20 L82.30,228.70 L78.30,228.70 Z" fill="#fff" stroke="#111" stroke-width="0.8"/>
<path d="M87.20,226.80 L89.20,230.30 L85.20,230.30 Z" fill="#fff" stroke="#111" stroke-width="0.8"/>
<path d="M94.20,226.80 L96.20,230.30 L92.20,230.30 Z" fill="#fff" stroke="#111" stroke-width="0.8"/>
<path d="M36.90,202.47 L37.87,203.00 L38.84,203.53 L39.81,204.07 L40.78,204.62 L41.76,205.16 L42.73,205.72 L43.70,206.27 L44.67,206.83 L45.64,207.39 L46.61,207.96 L47.58,208.52 L48.55,209.09 L49.53,209.65 L50.50,210.22 L51.47,210.78 L52.44,211.35 L53.41,211.91 L54.38,212.47 L55.35,213.03 L56.32,213.59 L57.29,214.15 L58.27,214.70 L59.24,215.25 L60.21,215.79 L61.18,216.33 L62.15,216.86 L63.12,217.39 L64.09,217.91 L65.06,218.43 L66.04,218.94 L67.01,219.44 L67.98,219.93 L68.95,220.42 L69.92,220.90 L70.89,221.38 L71.86,221.84 L72.83,222.30 L73.81,222.75 L74.78,223.19 L75.75,223.63 L76.72,224.05 L77.69,224.47 L78.66,224.88 L79.63,225.27 L80.60,225.66 L81.57,226.05 L82.55,226.42 L83.52,226.78 L84.49,227.14 L85.46,227.48 L86.43,227.82 L87.40,228.15 L88.37,228.47 L89.34,228.78 L90.32,229.08 L91.29,229.38 L92.26,229.66 L93.23,229.94 L94.20,230.21" fill="none" stroke="#111" stroke-width="0.8"/>
<rect x="35.14" y="200.84" width="3.52" height="3.52" fill="#fff" stroke="#111" stroke-width="0.8"/>
<rect x="42.44" y="203.94" width="3.52" height="3.52" fill="#fff" stroke="#111" stroke-width="0.8"/>
<rect x="49.64" y="210.04" width="3.52" height="3.52" fill="#fff" stroke="#111" stroke-width="0.8"/>
<rect x="57.04" y="213.94" width="3.52" height="3.52" fill="#fff" stroke="#111" stroke-width="0.8"/>
<rect x="63.94" y="216.24" width="3.52" height="3.52" fill="#fff" stroke="#111" stroke-width="0.8"/>
<rect x="71.14" y="218.54" width="3.52" height="3.52" fill="#fff" stroke="#111" stroke-width="0.8"/>
<rect x="78.54" y="225.44" width="3.52" height="3.52" fill="#fff" stroke="#111" stroke-width="0.8"/>
<rect x="85.44" y="227.44" width="3.52" height="3.52" fill="#fff" stroke="#111" stroke-width="0.8"/>
<rect x="92.44" y="227.44" width="3.52" height="3.52" fill="#fff" stroke="#111" stroke-width="0.8"/>
<path d="M36.90,196.57 L37.87,197.39 L38.84,198.21 L39.81,199.03 L40.78,199.85 L41.76,200.66 L42.73,201.47 L43.70,202.28 L44.67,203.08 L45.64,203.87 L46.61,204.66 L47.58,205.44 L48.55,206.22 L49.53,206.98 L50.50,207.74 L51.47,208.49 L52.44,209.23 L53.41,209.96 L54.38,210.69 L55.35,211.40 L56.32,212.10 L57.29,212.79 L58.27,213.47 L59.24,214.13 L60.21,214.79 L61.18,215.43 L62.15,216.06 L63.12,216.68 L64.09,217.29 L65.06,217.89 L66.04,218.47 L67.01,219.04 L67.98,219.60 L68.95,220.14 L69.92,220.67 L70.89,221.19 L71.86,221.70 L72.83,222.20 L73.81,222.68 L74.78,223.15 L75.75,223.61 L76.72,224.05 L77.69,224.49 L78.66,224.91 L79.63,225.32 L80.60,225.72 L81.57,226.11 L82.55,226.49 L83.52,226.85 L84.49,227.21 L85.46,227.56 L86.43,227.89 L87.40,228.21 L88.37,228.53 L89.34,228.83 L90.32,229.13 L91.29,229.42 L92.26,229.69 L93.23,229.96 L94.20,230.22" fill="none" stroke="#111" stroke-width="0.8"/>
<circle cx="36.90" cy="196.50" r="1.76" fill="#fff" stroke="#111" stroke-width="0.8"/>
<circle cx="44.20" cy="202.60" r="1.76" fill="#fff" stroke="#111" stroke-width="0.8"/>
<circle cx="51.40" cy="208.80" r="1.76" fill="#fff" stroke="#111" stroke-width="0.8"/>
<circle cx="58.80" cy="214.20" r="1.76" fill="#fff" stroke="#111" stroke-width="0.8"/>
<circle cx="65.70" cy="218.00" r="1.76" fill="#fff" stroke="#111" stroke-width="0.8"/>
<circle cx="72.90" cy="220.30" r="1.76" fill="#fff" stroke="#111" stroke-width="0.8"/>
<circle cx="80.30" cy="227.20" r="1.76" fill="#fff" stroke="#111" stroke-width="0.8"/>
<circle cx="87.20" cy="229.20" r="1.76" fill="#fff" stroke="#111" stroke-width="0.8"/>
<circle cx="94.20" cy="229.20" r="1.76" fill="#fff" stroke="#111" stroke-width="0.8"/>
<path d="M36.90,185.08 L37.87,185.89 L38.84,186.75 L39.81,187.65 L40.78,188.61 L41.76,189.60 L42.73,190.65 L43.70,191.74 L44.67,192.86 L45.64,194.03 L46.61,195.23 L47.58,196.46 L48.55,197.71 L49.53,198.99 L50.50,200.28 L51.47,201.58 L52.44,202.89 L53.41,204.19 L54.38,205.48 L55.35,206.76 L56.32,208.02 L57.29,209.26 L58.27,210.47 L59.24,211.64 L60.21,212.78 L61.18,213.88 L62.15,214.93 L63.12,215.94 L64.09,216.91 L65.06,217.83 L66.04,218.70 L67.01,219.52 L67.98,220.29 L68.95,221.02 L69.92,221.70 L70.89,222.34 L71.86,222.94 L72.83,223.49 L73.81,224.01 L74.78,224.49 L75.75,224.93 L76.72,225.35 L77.69,225.73 L78.66,226.08 L79.63,226.40 L80.60,226.70 L81.57,226.97 L82.55,227.22 L83.52,227.45 L84.49,227.66 L85.46,227.85 L86.43,228.03 L87.40,228.19 L88.37,228.34 L89.34,228.48 L90.32,228.60 L91.29,228.71 L92.26,228.82 L93.23,228.91 L94.20,229.00" fill="none" stroke="#111" stroke-width="0.8"/>
<path d="M36.90,188.20 L38.90,184.70 L34.90,184.70 Z" fill="#fff" stroke="#111" stroke-width="0.8"/>
<path d="M44.20,192.30 L46.20,188.80 L42.20,188.80 Z" fill="#fff" stroke="#111" stroke-width="0.8"/>
<path d="M51.40,203.10 L53.40,199.60 L49.40,199.60 Z" fill="#fff" stroke="#111" stroke-width="0.8"/>
<path d="M58.80,216.20 L60.80,212.70 L56.80,212.70 Z" fill="#fff" stroke="#111" stroke-width="0.8"/>
<path d="M65.70,220.00 L67.70,216.50 L63.70,216.50 Z" fill="#fff" stroke="#111" stroke-width="0.8"/>
<path d="M72.90,222.30 L74.90,218.80 L70.90,218.80 Z" fill="#fff" stroke="#111" stroke-width="0.8"/>
<path d="M80.30,229.20 L82.30,225.70 L78.30,225.70 Z" fill="#fff" stroke="#111" stroke-width="0.8"/>
<path d="M87.20,231.20 L89.20,227.70 L85.20,227.70 Z" fill="#fff" stroke="#111" stroke-width="0.8"/>
<path d="M94.20,231.20 L96.20,227.70 L92.20,227.70 Z" fill="#fff" stroke="#111" stroke-width="0.8"/>
<path d="M36.90,188.68 L37.87,189.57 L38.84,190.49 L39.81,191.43 L40.78,192.40 L41.76,193.39 L42.73,194.41 L43.70,195.44 L44.67,196.49 L45.64,197.56 L46.61,198.64 L47.58,199.73 L48.55,200.83 L49.53,201.93 L50.50,203.03 L51.47,204.12 L52.44,205.21 L53.41,206.29 L54.38,207.36 L55.35,208.42 L56.32,209.46 L57.29,210.48 L58.27,211.47 L59.24,212.44 L60.21,213.39 L61.18,214.31 L62.15,215.20 L63.12,216.06 L64.09,216.90 L65.06,217.70 L66.04,218.46 L67.01,219.20 L67.98,219.91 L68.95,220.58 L69.92,221.22 L70.89,221.83 L71.86,222.41 L72.83,222.97 L73.81,223.49 L74.78,223.98 L75.75,224.45 L76.72,224.89 L77.69,225.31 L78.66,225.70 L79.63,226.07 L80.60,226.42 L81.57,226.74 L82.55,227.05 L83.52,227.34 L84.49,227.60 L85.46,227.86 L86.43,228.09 L87.40,228.31 L88.37,228.52 L89.34,228.71 L90.32,228.89 L91.29,229.06 L92.26,229.22 L93.23,229.36 L94.20,229.50" fill="none" stroke="#111" stroke-width="0.8"/>
<polygon points="36.90,187.42 37.42,188.79 38.88,188.86 37.74,189.77 38.12,191.18 36.90,190.38 35.68,191.18 36.06,189.77 34.92,188.86 36.38,188.79" fill="#111"/>
<polygon points="44.20,192.12 44.72,193.49 46.18,193.56 45.04,194.47 45.42,195.88 44.20,195.08 42.98,195.88 43.36,194.47 42.22,193.56 43.68,193.49" fill="#111"/>
<polygon points="51.40,202.12 51.92,203.49 53.38,203.56 52.24,204.47 52.62,205.88 51.40,205.08 50.18,205.88 50.56,204.47 49.42,203.56 50.88,203.49" fill="#111"/>
<polygon points="58.80,212.12 59.32,213.49 60.78,213.56 59.64,214.47 60.02,215.88 58.80,215.08 57.58,215.88 57.96,214.47 56.82,213.56 58.28,213.49" fill="#111"/>
<polygon points="65.70,215.92 66.22,217.29 67.68,217.36 66.54,218.27 66.92,219.68 65.70,218.88 64.48,219.68 64.86,218.27 63.72,217.36 65.18,217.29" fill="#111"/>
<polygon points="72.90,218.22 73.42,219.59 74.88,219.66 73.74,220.57 74.12,221.98 72.90,221.18 71.68,221.98 72.06,220.57 70.92,219.66 72.38,219.59" fill="#111"/>
<polygon points="80.30,225.12 80.82,226.49 82.28,226.56 81.14,227.47 81.52,228.88 80.30,228.08 79.08,228.88 79.46,227.47 78.32,226.56 79.78,226.49" fill="#111"/>
<polygon points="87.20,227.12 87.72,228.49 89.18,228.56 88.04,229.47 88.42,230.88 87.20,230.08 85.98,230.88 86.36,229.47 85.22,228.56 86.68,228.49" fill="#111"/>
<polygon points="94.20,227.12 94.72,228.49 96.18,228.56 95.04,229.47 95.42,230.88 94.20,230.08 92.98,230.88 93.36,229.47 92.22,228.56 93.68,228.49" fill="#111"/>
<path d="M36.90,190.03 L37.87,190.93 L38.84,191.86 L39.81,192.81 L40.78,193.79 L41.76,194.78 L42.73,195.80 L43.70,196.83 L44.67,197.87 L45.64,198.92 L46.61,199.98 L47.58,201.05 L48.55,202.12 L49.53,203.19 L50.50,204.25 L51.47,205.31 L52.44,206.36 L53.41,207.40 L54.38,208.42 L55.35,209.43 L56.32,210.42 L57.29,211.39 L58.27,212.34 L59.24,213.26 L60.21,214.16 L61.18,215.03 L62.15,215.87 L63.12,216.68 L64.09,217.46 L65.06,218.22 L66.04,218.94 L67.01,219.63 L67.98,220.30 L68.95,220.93 L69.92,221.54 L70.89,222.11 L71.86,222.66 L72.83,223.18 L73.81,223.67 L74.78,224.14 L75.75,224.58 L76.72,224.99 L77.69,225.39 L78.66,225.76 L79.63,226.11 L80.60,226.44 L81.57,226.75 L82.55,227.04 L83.52,227.31 L84.49,227.57 L85.46,227.81 L86.43,228.03 L87.40,228.24 L88.37,228.44 L89.34,228.62 L90.32,228.80 L91.29,228.96 L92.26,229.11 L93.23,229.25 L94.20,229.38" fill="none" stroke="#111" stroke-width="0.8"/>
<circle cx="36.90" cy="191.10" r="2.04" fill="#111"/>
<circle cx="44.20" cy="194.90" r="2.04" fill="#111"/>
<circle cx="51.40" cy="205.70" r="2.04" fill="#111"/>
<circle cx="58.80" cy="215.70" r="2.04" fill="#111"/>
<circle cx="65.70" cy="218.00" r="2.04" fill="#111"/>
<circle cx="72.90" cy="220.30" r="2.04" fill="#111"/>
<circle cx="80.30" cy="227.20" r="2.04" fill="#111"/>
<circle cx="87.20" cy="229.20" r="2.04" fill="#111"/>
<circle cx="94.20" cy="229.20" r="2.04" fill="#111"/>
<rect x="63.72" y="216.02" width="3.96" height="3.96" fill="#111" stroke="#111" stroke-width="0.8"/>
<rect x="70.92" y="218.32" width="3.96" height="3.96" fill="#111" stroke="#111" stroke-width="0.8"/>
<rect x="78.32" y="225.22" width="3.96" height="3.96" fill="#111" stroke="#111" stroke-width="0.8"/>
<rect x="85.22" y="227.22" width="3.96" height="3.96" fill="#111" stroke="#111" stroke-width="0.8"/>
<rect x="92.22" y="227.22" width="3.96" height="3.96" fill="#111" stroke="#111" stroke-width="0.8"/>
<text id="t41" x="34.71" y="251.20" font-size="8.2" textLength="66.65" lengthAdjust="spacingAndGlyphs" fill="#111" style="stroke-width:0.5px">SG3<tspan class="o">1</tspan>99 (nmol/L)</text>
<text id="t42" x="0" y="0" font-size="8.0" textLength="48.06" lengthAdjust="spacingAndGlyphs" fill="#111" style="stroke-width:0.3px" transform="translate(11.31,226.09) rotate(-90)">Viability (%)</text>
<line x1="64.40" y1="137.80" x2="68.20" y2="137.80" stroke="#666" stroke-width="0.6"/>
<path d="M66.30,135.07 L68.42,138.79 L64.17,138.79 Z" fill="#fff" stroke="#666" stroke-width="0.75"/>
<text id="t43" x="72.62" y="140.03" font-size="7.4" textLength="23.53" lengthAdjust="spacingAndGlyphs" fill="#111" style="stroke-width:0.5px">DMSO</text>
<line x1="64.40" y1="146.30" x2="68.20" y2="146.30" stroke="#666" stroke-width="0.6"/>
<rect x="64.43" y="144.43" width="3.74" height="3.74" fill="#fff" stroke="#666" stroke-width="0.75"/>
<text id="t44" x="72.52" y="149.13" font-size="7.4" textLength="67.62" lengthAdjust="spacingAndGlyphs" fill="#111" style="stroke-width:0.5px">5 µmol/L AZD6738</text>
<line x1="64.40" y1="156.40" x2="68.20" y2="156.40" stroke="#666" stroke-width="0.6"/>
<circle cx="66.30" cy="156.40" r="1.87" fill="#fff" stroke="#666" stroke-width="0.75"/>
<text id="t45" x="72.60" y="159.23" font-size="7.4" textLength="74.08" lengthAdjust="spacingAndGlyphs" fill="#111" style="stroke-width:0.5px">3.2 µmol/L AZD6738</text>
<polygon points="66.30,163.49 66.85,164.94 68.40,165.02 67.19,165.99 67.60,167.49 66.30,166.63 65.00,167.49 65.41,165.99 64.20,165.02 65.75,164.94" fill="#111"/>
<text id="t46" x="72.81" y="168.53" font-size="7.4" textLength="78.75" lengthAdjust="spacingAndGlyphs" fill="#111" style="stroke-width:0.5px">2.56 µmol/L AZD6738</text>
<circle cx="66.30" cy="175.50" r="2.04" fill="#111"/>
<text id="t47" x="72.80" y="178.33" font-size="7.4" textLength="84.96" lengthAdjust="spacingAndGlyphs" fill="#111" style="stroke-width:0.5px">2.048 µmol/L AZ D6738</text>
<path d="M66.30,189.12 L68.42,185.41 L64.17,185.41 Z" fill="#fff" stroke="#666" stroke-width="0.75"/>
<text id="t48" x="71.69" y="189.83" font-size="7.4" textLength="84.50" lengthAdjust="spacingAndGlyphs" fill="#111" style="stroke-width:0.5px"><tspan class="o">1</tspan>.638 µmol/L AZD6738</text>
<text id="t49" x="190.66" y="125.90" font-size="8.2" textLength="38.20" lengthAdjust="spacingAndGlyphs" fill="#111" style="stroke-width:0.5px">36<tspan class="o">1</tspan>-PBDr</text>
<text id="t50" x="230.35" y="145.10" font-size="8.2" textLength="69.17" lengthAdjust="spacingAndGlyphs" fill="#111" style="stroke-width:0.5px">SG3<tspan class="o">1</tspan>99 (nmol/L)</text>
<rect x="196.90" y="174.00" width="14.73" height="17.55" fill="#62e49a"/>
<circle cx="204.24" cy="182.75" r="0.5" fill="#000" fill-opacity="0.12"/>
<rect x="211.58" y="174.00" width="14.73" height="17.55" fill="#40e8d4"/>
<circle cx="218.92" cy="182.75" r="0.5" fill="#000" fill-opacity="0.12"/>
<rect x="226.26" y="174.00" width="14.73" height="17.55" fill="#2070f0"/>
<circle cx="233.60" cy="182.75" r="0.5" fill="#000" fill-opacity="0.12"/>
<rect x="240.94" y="174.00" width="14.73" height="17.55" fill="#0408c0"/>
<circle cx="248.28" cy="182.75" r="0.5" fill="#000" fill-opacity="0.12"/>
<rect x="255.62" y="174.00" width="14.73" height="17.55" fill="#1a62f0"/>
<circle cx="262.96" cy="182.75" r="0.5" fill="#000" fill-opacity="0.12"/>
<rect x="270.30" y="174.00" width="14.73" height="17.55" fill="#4ce8c4"/>
<circle cx="277.64" cy="182.75" r="0.5" fill="#000" fill-opacity="0.12"/>
<rect x="284.98" y="174.00" width="14.73" height="17.55" fill="#56e8b6"/>
<circle cx="292.32" cy="182.75" r="0.5" fill="#000" fill-opacity="0.12"/>
<rect x="299.66" y="174.00" width="14.73" height="17.55" fill="#62e8a6"/>
<circle cx="307.00" cy="182.75" r="0.5" fill="#000" fill-opacity="0.12"/>
<rect x="314.34" y="174.00" width="14.73" height="17.55" fill="#74e890"/>
<circle cx="321.68" cy="182.75" r="0.5" fill="#000" fill-opacity="0.12"/>
<rect x="196.90" y="191.50" width="14.73" height="17.55" fill="#62e49a"/>
<circle cx="204.24" cy="200.25" r="0.5" fill="#000" fill-opacity="0.12"/>
<rect x="211.58" y="191.50" width="14.73" height="17.55" fill="#3ae8dc"/>
<circle cx="218.92" cy="200.25" r="0.5" fill="#000" fill-opacity="0.12"/>
<rect x="226.26" y="191.50" width="14.73" height="17.55" fill="#1e66f0"/>
<circle cx="233.60" cy="200.25" r="0.5" fill="#000" fill-opacity="0.12"/>
<rect x="240.94" y="191.50" width="14.73" height="17.55" fill="#0812d0"/>
<circle cx="248.28" cy="200.25" r="0.5" fill="#000" fill-opacity="0.12"/>
<rect x="255.62" y="191.50" width="14.73" height="17.55" fill="#2080f0"/>
<circle cx="262.96" cy="200.25" r="0.5" fill="#000" fill-opacity="0.12"/>
<rect x="270.30" y="191.50" width="14.73" height="17.55" fill="#4ae8c8"/>
<circle cx="277.64" cy="200.25" r="0.5" fill="#000" fill-opacity="0.12"/>
<rect x="284.98" y="191.50" width="14.73" height="17.55" fill="#54e8b8"/>
<circle cx="292.32" cy="200.25" r="0.5" fill="#000" fill-opacity="0.12"/>
<rect x="299.66" y="191.50" width="14.73" height="17.55" fill="#62e8a6"/>
<circle cx="307.00" cy="200.25" r="0.5" fill="#000" fill-opacity="0.12"/>
<rect x="314.34" y="191.50" width="14.73" height="17.55" fill="#74e890"/>
<circle cx="321.68" cy="200.25" r="0.5" fill="#000" fill-opacity="0.12"/>
<rect x="196.90" y="209.00" width="14.73" height="17.55" fill="#62e49a"/>
<circle cx="204.24" cy="217.75" r="0.5" fill="#000" fill-opacity="0.12"/>
<rect x="211.58" y="209.00" width="14.73" height="17.55" fill="#3ae8dc"/>
<circle cx="218.92" cy="217.75" r="0.5" fill="#000" fill-opacity="0.12"/>
<rect x="226.26" y="209.00" width="14.73" height="17.55" fill="#1e66f0"/>
<circle cx="233.60" cy="217.75" r="0.5" fill="#000" fill-opacity="0.12"/>
<rect x="240.94" y="209.00" width="14.73" height="17.55" fill="#0a18d4"/>
<circle cx="248.28" cy="217.75" r="0.5" fill="#000" fill-opacity="0.12"/>
<rect x="255.62" y="209.00" width="14.73" height="17.55" fill="#2090f0"/>
<circle cx="262.96" cy="217.75" r="0.5" fill="#000" fill-opacity="0.12"/>
<rect x="270.30" y="209.00" width="14.73" height="17.55" fill="#48e8c8"/>
<circle cx="277.64" cy="217.75" r="0.5" fill="#000" fill-opacity="0.12"/>
<rect x="284.98" y="209.00" width="14.73" height="17.55" fill="#54e8b8"/>
<circle cx="292.32" cy="217.75" r="0.5" fill="#000" fill-opacity="0.12"/>
<rect x="299.66" y="209.00" width="14.73" height="17.55" fill="#62e8a6"/>
<circle cx="307.00" cy="217.75" r="0.5" fill="#000" fill-opacity="0.12"/>
<rect x="314.34" y="209.00" width="14.73" height="17.55" fill="#74e88e"/>
<circle cx="321.68" cy="217.75" r="0.5" fill="#000" fill-opacity="0.12"/>
<rect x="196.90" y="226.50" width="14.73" height="17.55" fill="#62e49c"/>
<circle cx="204.24" cy="235.25" r="0.5" fill="#000" fill-opacity="0.12"/>
<rect x="211.58" y="226.50" width="14.73" height="17.55" fill="#3ee8d6"/>
<circle cx="218.92" cy="235.25" r="0.5" fill="#000" fill-opacity="0.12"/>
<rect x="226.26" y="226.50" width="14.73" height="17.55" fill="#2080f0"/>
<circle cx="233.60" cy="235.25" r="0.5" fill="#000" fill-opacity="0.12"/>
<rect x="240.94" y="226.50" width="14.73" height="17.55" fill="#1444e0"/>
<circle cx="248.28" cy="235.25" r="0.5" fill="#000" fill-opacity="0.12"/>
<rect x="255.62" y="226.50" width="14.73" height="17.55" fill="#30c0f0"/>
<circle cx="262.96" cy="235.25" r="0.5" fill="#000" fill-opacity="0.12"/>
<rect x="270.30" y="226.50" width="14.73" height="17.55" fill="#4ce8c2"/>
<circle cx="277.64" cy="235.25" r="0.5" fill="#000" fill-opacity="0.12"/>
<rect x="284.98" y="226.50" width="14.73" height="17.55" fill="#54e8b8"/>
<circle cx="292.32" cy="235.25" r="0.5" fill="#000" fill-opacity="0.12"/>
<rect x="299.66" y="226.50" width="14.73" height="17.55" fill="#62e8a6"/>
<circle cx="307.00" cy="235.25" r="0.5" fill="#000" fill-opacity="0.12"/>
<rect x="314.34" y="226.50" width="14.73" height="17.55" fill="#74e88e"/>
<circle cx="321.68" cy="235.25" r="0.5" fill="#000" fill-opacity="0.12"/>
<rect x="196.90" y="244.00" width="14.73" height="17.55" fill="#9ce476"/>
<circle cx="204.24" cy="252.75" r="0.5" fill="#000" fill-opacity="0.12"/>
<rect x="211.58" y="244.00" width="14.73" height="17.55" fill="#56e4ae"/>
<circle cx="218.92" cy="252.75" r="0.5" fill="#000" fill-opacity="0.12"/>
<rect x="226.26" y="244.00" width="14.73" height="17.55" fill="#36eef0"/>
<circle cx="233.60" cy="252.75" r="0.5" fill="#000" fill-opacity="0.12"/>
<rect x="240.94" y="244.00" width="14.73" height="17.55" fill="#34e4f2"/>
<circle cx="248.28" cy="252.75" r="0.5" fill="#000" fill-opacity="0.12"/>
<rect x="255.62" y="244.00" width="14.73" height="17.55" fill="#48e8d2"/>
<circle cx="262.96" cy="252.75" r="0.5" fill="#000" fill-opacity="0.12"/>
<rect x="270.30" y="244.00" width="14.73" height="17.55" fill="#aee272"/>
<circle cx="277.64" cy="252.75" r="0.5" fill="#000" fill-opacity="0.12"/>
<rect x="284.98" y="244.00" width="14.73" height="17.55" fill="#62e8aa"/>
<circle cx="292.32" cy="252.75" r="0.5" fill="#000" fill-opacity="0.12"/>
<rect x="299.66" y="244.00" width="14.73" height="17.55" fill="#6ae89c"/>
<circle cx="307.00" cy="252.75" r="0.5" fill="#000" fill-opacity="0.12"/>
<rect x="314.34" y="244.00" width="14.73" height="17.55" fill="#78e890"/>
<circle cx="321.68" cy="252.75" r="0.5" fill="#000" fill-opacity="0.12"/>
<line x1="196.90" y1="174.0" x2="196.90" y2="261.5" stroke="#0a4020" stroke-opacity="0.4" stroke-width="0.8"/>
<line x1="211.58" y1="174.0" x2="211.58" y2="261.5" stroke="#0a4020" stroke-opacity="0.4" stroke-width="0.8"/>
<line x1="226.26" y1="174.0" x2="226.26" y2="261.5" stroke="#0a4020" stroke-opacity="0.4" stroke-width="0.8"/>
<line x1="240.94" y1="174.0" x2="240.94" y2="261.5" stroke="#0a4020" stroke-opacity="0.4" stroke-width="0.8"/>
<line x1="255.62" y1="174.0" x2="255.62" y2="261.5" stroke="#0a4020" stroke-opacity="0.4" stroke-width="0.8"/>
<line x1="270.30" y1="174.0" x2="270.30" y2="261.5" stroke="#0a4020" stroke-opacity="0.4" stroke-width="0.8"/>
<line x1="284.98" y1="174.0" x2="284.98" y2="261.5" stroke="#0a4020" stroke-opacity="0.4" stroke-width="0.8"/>
<line x1="299.66" y1="174.0" x2="299.66" y2="261.5" stroke="#0a4020" stroke-opacity="0.4" stroke-width="0.8"/>
<line x1="314.34" y1="174.0" x2="314.34" y2="261.5" stroke="#0a4020" stroke-opacity="0.4" stroke-width="0.8"/>
<line x1="329.02" y1="174.0" x2="329.02" y2="261.5" stroke="#0a4020" stroke-opacity="0.4" stroke-width="0.8"/>
<line x1="196.9" y1="174.00" x2="329.02" y2="174.00" stroke="#0a4020" stroke-opacity="0.4" stroke-width="0.8"/>
<line x1="196.9" y1="191.50" x2="329.02" y2="191.50" stroke="#0a4020" stroke-opacity="0.4" stroke-width="0.8"/>
<line x1="196.9" y1="209.00" x2="329.02" y2="209.00" stroke="#0a4020" stroke-opacity="0.4" stroke-width="0.8"/>
<line x1="196.9" y1="226.50" x2="329.02" y2="226.50" stroke="#0a4020" stroke-opacity="0.4" stroke-width="0.8"/>
<line x1="196.9" y1="244.00" x2="329.02" y2="244.00" stroke="#0a4020" stroke-opacity="0.4" stroke-width="0.8"/>
<line x1="196.9" y1="261.50" x2="329.02" y2="261.50" stroke="#0a4020" stroke-opacity="0.4" stroke-width="0.8"/>
<defs><linearGradient id="cb" x1="0" y1="0" x2="0" y2="1"><stop offset="0" stop-color="#00007a"/><stop offset="0.1" stop-color="#0008a8"/><stop offset="0.22" stop-color="#1040d0"/><stop offset="0.32" stop-color="#2080e8"/><stop offset="0.4" stop-color="#40d0f0"/><stop offset="0.47" stop-color="#a0f0f0"/><stop offset="0.53" stop-color="#f0f0b0"/><stop offset="0.6" stop-color="#f8e040"/><stop offset="0.68" stop-color="#f0b020"/><stop offset="0.78" stop-color="#e86018"/><stop offset="0.88" stop-color="#c82010"/><stop offset="1" stop-color="#700000"/></linearGradient></defs>
<rect x="330" y="174.0" width="2.6" height="87.5" fill="url(#cb)"/>
<text id="t51" x="0" y="0" font-size="8.0" textLength="33.72" lengthAdjust="spacingAndGlyphs" fill="#111" style="stroke-width:0.3px" transform="translate(341.74,208.21) rotate(-90)">Synergy</text>
<text id="t52" x="0" y="0" font-size="8.0" textLength="50.29" lengthAdjust="spacingAndGlyphs" fill="#111" style="stroke-width:0.3px" transform="translate(341.40,265.64) rotate(-90)">Antagonism</text>
<text id="t53" x="173.16" y="185.38" font-size="8.3" textLength="21.74" lengthAdjust="spacingAndGlyphs" fill="#111" style="stroke-width:0.5px"><tspan class="o">1</tspan>.638</text>
<text id="t54" x="174.86" y="203.38" font-size="8.3" textLength="20.52" lengthAdjust="spacingAndGlyphs" fill="#111" style="stroke-width:0.5px">2.048</text>
<text id="t55" x="177.89" y="221.18" font-size="8.3" textLength="15.32" lengthAdjust="spacingAndGlyphs" fill="#111" style="stroke-width:0.5px">2.56</text>
<text id="t56" x="182.42" y="239.78" font-size="8.3" textLength="11.24" lengthAdjust="spacingAndGlyphs" fill="#111" style="stroke-width:0.5px">3.2</text>
<text id="t57" x="185.79" y="258.38" font-size="8.3" textLength="4.61" lengthAdjust="spacingAndGlyphs" fill="#111" style="stroke-width:0.5px">5</text>
<text id="t58" x="0" y="0" font-size="8.0" textLength="72.62" lengthAdjust="spacingAndGlyphs" fill="#111" style="stroke-width:0.3px" transform="translate(171.19,254.12) rotate(-90)">AZD6738 (µmol/L)</text>
<text x="0" y="0" font-size="8.0" fill="#111" transform="translate(206.74,172.20) rotate(-60)">0.003</text>
<text x="0" y="0" font-size="8.0" fill="#111" transform="translate(221.42,172.20) rotate(-60)">0.009</text>
<text x="0" y="0" font-size="8.0" fill="#111" transform="translate(236.10,172.20) rotate(-60)">0.027</text>
<text x="0" y="0" font-size="8.0" fill="#111" transform="translate(250.78,172.20) rotate(-60)">0.082</text>
<text x="0" y="0" font-size="8.0" fill="#111" transform="translate(265.46,172.20) rotate(-60)">0.247</text>
<text x="0" y="0" font-size="8.0" fill="#111" transform="translate(280.14,172.20) rotate(-60)">0.74<tspan class="o">1</tspan></text>
<text x="0" y="0" font-size="8.0" fill="#111" transform="translate(294.82,172.20) rotate(-60)">2.222</text>
<text x="0" y="0" font-size="8.0" fill="#111" transform="translate(309.50,172.20) rotate(-60)">6.667</text>
<text x="0" y="0" font-size="8.0" fill="#111" transform="translate(324.18,172.20) rotate(-60)">20</text>
<text id="t59" x="362.35" y="163.00" font-size="8.2" textLength="30.34" lengthAdjust="spacingAndGlyphs" fill="#111" style="stroke-width:0.5px">SG3<tspan class="o">1</tspan>99</text>
<text id="t60" x="354.59" y="175.30" font-size="8.2" textLength="41.15" lengthAdjust="spacingAndGlyphs" fill="#111" style="stroke-width:0.5px">MEDI064<tspan class="o">1</tspan></text>
<text id="t61" x="357.63" y="186.70" font-size="8.2" textLength="35.70" lengthAdjust="spacingAndGlyphs" fill="#111" style="stroke-width:0.5px">AZD6738</text>
<line x1="402.90" y1="160.80" x2="404.90" y2="160.80" stroke="#333" stroke-width="1.0"/>
<line x1="416.50" y1="160.80" x2="420.90" y2="160.80" stroke="#111" stroke-width="1.2"/>
<line x1="418.70" y1="158.60" x2="418.70" y2="163.00" stroke="#111" stroke-width="1.2"/>
<line x1="432.20" y1="160.80" x2="434.20" y2="160.80" stroke="#333" stroke-width="1.0"/>
<line x1="446.70" y1="160.80" x2="448.70" y2="160.80" stroke="#333" stroke-width="1.0"/>
<line x1="460.50" y1="160.80" x2="464.90" y2="160.80" stroke="#111" stroke-width="1.2"/>
<line x1="462.70" y1="158.60" x2="462.70" y2="163.00" stroke="#111" stroke-width="1.2"/>
<line x1="476.00" y1="160.80" x2="478.00" y2="160.80" stroke="#333" stroke-width="1.0"/>
<line x1="402.90" y1="171.50" x2="404.90" y2="171.50" stroke="#333" stroke-width="1.0"/>
<line x1="417.70" y1="171.50" x2="419.70" y2="171.50" stroke="#333" stroke-width="1.0"/>
<line x1="431.00" y1="171.50" x2="435.40" y2="171.50" stroke="#111" stroke-width="1.2"/>
<line x1="433.20" y1="169.30" x2="433.20" y2="173.70" stroke="#111" stroke-width="1.2"/>
<line x1="446.70" y1="171.50" x2="448.70" y2="171.50" stroke="#333" stroke-width="1.0"/>
<line x1="461.70" y1="171.50" x2="463.70" y2="171.50" stroke="#333" stroke-width="1.0"/>
<line x1="474.80" y1="171.50" x2="479.20" y2="171.50" stroke="#111" stroke-width="1.2"/>
<line x1="477.00" y1="169.30" x2="477.00" y2="173.70" stroke="#111" stroke-width="1.2"/>
<line x1="402.90" y1="182.00" x2="404.90" y2="182.00" stroke="#333" stroke-width="1.0"/>
<line x1="417.70" y1="182.00" x2="419.70" y2="182.00" stroke="#333" stroke-width="1.0"/>
<line x1="432.20" y1="182.00" x2="434.20" y2="182.00" stroke="#333" stroke-width="1.0"/>
<line x1="445.50" y1="182.00" x2="449.90" y2="182.00" stroke="#111" stroke-width="1.2"/>
<line x1="447.70" y1="179.80" x2="447.70" y2="184.20" stroke="#111" stroke-width="1.2"/>
<line x1="460.50" y1="182.00" x2="464.90" y2="182.00" stroke="#111" stroke-width="1.2"/>
<line x1="462.70" y1="179.80" x2="462.70" y2="184.20" stroke="#111" stroke-width="1.2"/>
<line x1="474.80" y1="182.00" x2="479.20" y2="182.00" stroke="#111" stroke-width="1.2"/>
<line x1="477.00" y1="179.80" x2="477.00" y2="184.20" stroke="#111" stroke-width="1.2"/>
<defs><linearGradient id="b1" x1="0" y1="0" x2="1" y2="0"><stop offset="0" stop-color="#b8b8b8"/><stop offset="0.5" stop-color="#bcbcbc"/><stop offset="0.96" stop-color="#b8b8b8"/><stop offset="1" stop-color="#9c9c9c"/></linearGradient><linearGradient id="b2" x1="0" y1="0" x2="0" y2="1"><stop offset="0" stop-color="#c4c4d0"/><stop offset="1" stop-color="#ccccd8"/></linearGradient><filter id="bl" x="-20%" y="-80%" width="140%" height="260%"><feGaussianBlur stdDeviation="0.55"/></filter></defs>
<rect x="398.2" y="191.3" width="90.4" height="11.6" fill="url(#b1)"/>
<rect x="398.2" y="205.7" width="90.4" height="10.2" fill="url(#b2)"/>
<rect x="398.2" y="218.8" width="90.4" height="9.7" fill="url(#b2)"/>
<g filter="url(#bl)">
<rect x="414.6" y="194.6" width="11.6" height="5.0" rx="1.8" fill="#8a8a8a" opacity="0.55"/>
<rect x="428.9" y="193.4" width="11.6" height="4.6" rx="1.8" fill="#8a8a8a" opacity="0.5"/>
<path d="M414.8,196.8 C417,195.7 423,195.7 425.8,196.6 L425.8,198.6 C423,199.1 417,199.1 414.8,198.7 Z" fill="#1a1a1a"/>
<path d="M429.2,195.2 C432,194.3 438,194.3 440.2,195.0 L440.2,197.1 C438,197.5 432,197.5 429.2,197.2 Z" fill="#2a2a2a"/>
<rect x="401.60" y="209.3" width="12.4" height="2.3" rx="0.8" fill="#141420"/>
<rect x="401.60" y="223.95" width="12.4" height="2.1" rx="0.8" fill="#141420"/>
<rect x="416.00" y="209.3" width="12.4" height="2.3" rx="0.8" fill="#141420"/>
<rect x="416.00" y="223.95" width="12.4" height="2.1" rx="0.8" fill="#141420"/>
<rect x="430.20" y="209.3" width="12.4" height="2.3" rx="0.8" fill="#141420"/>
<rect x="430.20" y="223.85" width="12.4" height="2.1" rx="0.8" fill="#141420"/>
<rect x="444.60" y="209.3" width="12.4" height="2.3" rx="0.8" fill="#141420"/>
<rect x="444.60" y="223.45" width="12.4" height="2.1" rx="0.8" fill="#141420"/>
<rect x="458.60" y="209.3" width="12.4" height="2.3" rx="0.8" fill="#141420"/>
<rect x="458.60" y="222.85" width="12.4" height="2.1" rx="0.8" fill="#141420"/>
<rect x="473.40" y="209.3" width="12.4" height="2.3" rx="0.8" fill="#141420"/>
<rect x="473.40" y="222.15" width="12.4" height="2.1" rx="0.8" fill="#141420"/>
</g>
<text id="t62" x="365.96" y="199.10" font-size="8.2" textLength="26.78" lengthAdjust="spacingAndGlyphs" fill="#111" style="stroke-width:0.5px">56 kDa</text>
<text id="t63" x="365.96" y="212.50" font-size="8.2" textLength="26.78" lengthAdjust="spacingAndGlyphs" fill="#111" style="stroke-width:0.5px">56 kDa</text>
<text id="t64" x="366.83" y="227.00" font-size="8.2" textLength="26.63" lengthAdjust="spacingAndGlyphs" fill="#111" style="stroke-width:0.5px">42 kDa</text>
<text id="t65" x="490.66" y="193.00" font-size="8.2" textLength="29.40" lengthAdjust="spacingAndGlyphs" fill="#111" style="stroke-width:0.5px">pCHK<tspan class="o">1</tspan></text>
<text id="t66" x="490.89" y="202.70" font-size="8.2" textLength="25.78" lengthAdjust="spacingAndGlyphs" fill="#111" style="stroke-width:0.5px">(S345)</text>
<text id="t67" x="490.95" y="214.80" font-size="8.2" textLength="24.42" lengthAdjust="spacingAndGlyphs" fill="#111" style="stroke-width:0.5px">CHK<tspan class="o">1</tspan></text>
<text id="t68" x="490.75" y="225.60" font-size="8.2" textLength="28.81" lengthAdjust="spacingAndGlyphs" fill="#111" style="stroke-width:0.5px">β-Actin</text>
<text id="t69" x="186.71" y="285.30" font-size="8.2" textLength="51.83" lengthAdjust="spacingAndGlyphs" fill="#111" style="stroke-width:0.5px">MDA-MB-36<tspan class="o">1</tspan></text>
<line x1="39.70" y1="294.20" x2="39.70" y2="363.90" stroke="#555" stroke-width="1.1"/>
<line x1="39.20" y1="363.40" x2="126.00" y2="363.40" stroke="#555" stroke-width="1.1"/>
<line x1="37.70" y1="305.90" x2="39.70" y2="305.90" stroke="#555" stroke-width="1.0"/>
<text id="t70" x="20.61" y="308.98" font-size="8.3" textLength="15.31" lengthAdjust="spacingAndGlyphs" fill="#111" style="stroke-width:0.5px"><tspan class="o">1</tspan>00</text>
<line x1="37.70" y1="334.80" x2="39.70" y2="334.80" stroke="#555" stroke-width="1.0"/>
<text id="t71" x="26.43" y="337.88" font-size="8.3" textLength="9.46" lengthAdjust="spacingAndGlyphs" fill="#111" style="stroke-width:0.5px">50</text>
<line x1="37.70" y1="363.40" x2="39.70" y2="363.40" stroke="#555" stroke-width="1.0"/>
<text id="t72" x="31.73" y="366.48" font-size="8.3" textLength="4.66" lengthAdjust="spacingAndGlyphs" fill="#111" style="stroke-width:0.5px">0</text>
<line x1="49.80" y1="363.40" x2="49.80" y2="365.40" stroke="#555" stroke-width="1.0"/>
<text id="t73" x="36.35" y="375.28" font-size="8.3" textLength="28.73" lengthAdjust="spacingAndGlyphs" fill="#111" style="stroke-width:0.5px">0.000<tspan class="o">1</tspan></text>
<line x1="82.35" y1="363.40" x2="82.35" y2="365.40" stroke="#555" stroke-width="1.0"/>
<text id="t74" x="76.44" y="375.28" font-size="8.3" textLength="13.55" lengthAdjust="spacingAndGlyphs" fill="#111" style="stroke-width:0.5px">0.<tspan class="o">1</tspan></text>
<line x1="115.50" y1="363.40" x2="115.50" y2="365.40" stroke="#555" stroke-width="1.0"/>
<text id="t75" x="107.64" y="375.28" font-size="8.3" textLength="15.12" lengthAdjust="spacingAndGlyphs" fill="#111" style="stroke-width:0.5px"><tspan class="o">1</tspan>00</text>
<path d="M48.70,302.47 L49.69,302.49 L50.68,302.53 L51.67,302.57 L52.67,302.63 L53.66,302.70 L54.65,302.80 L55.64,302.92 L56.63,303.07 L57.62,303.27 L58.62,303.53 L59.61,303.86 L60.60,304.28 L61.59,304.82 L62.58,305.49 L63.57,306.34 L64.56,307.41 L65.56,308.72 L66.55,310.31 L67.54,312.24 L68.53,314.51 L69.52,317.15 L70.51,320.13 L71.51,323.41 L72.50,326.93 L73.49,330.56 L74.48,334.21 L75.47,337.75 L76.46,341.08 L77.45,344.12 L78.45,346.81 L79.44,349.15 L80.43,351.13 L81.42,352.78 L82.41,354.14 L83.40,355.24 L84.39,356.12 L85.39,356.83 L86.38,357.38 L87.37,357.82 L88.36,358.17 L89.35,358.43 L90.34,358.64 L91.34,358.81 L92.33,358.93 L93.32,359.03 L94.31,359.11 L95.30,359.17 L96.29,359.21 L97.28,359.25 L98.28,359.28 L99.27,359.30 L100.26,359.32 L101.25,359.33 L102.24,359.34 L103.23,359.35 L104.23,359.35 L105.22,359.36 L106.21,359.36 L107.20,359.36" fill="none" stroke="#111" stroke-width="0.8"/>
<rect x="46.50" y="303.30" width="4.40" height="4.40" fill="#fff" stroke="#111" stroke-width="0.8"/>
<rect x="53.10" y="300.70" width="4.40" height="4.40" fill="#fff" stroke="#111" stroke-width="0.8"/>
<rect x="60.00" y="300.70" width="4.40" height="4.40" fill="#fff" stroke="#111" stroke-width="0.8"/>
<rect x="66.60" y="310.20" width="4.40" height="4.40" fill="#fff" stroke="#111" stroke-width="0.8"/>
<rect x="73.00" y="339.60" width="4.40" height="4.40" fill="#fff" stroke="#111" stroke-width="0.8"/>
<rect x="79.40" y="345.70" width="4.40" height="4.40" fill="#fff" stroke="#111" stroke-width="0.8"/>
<rect x="86.00" y="350.90" width="4.40" height="4.40" fill="#fff" stroke="#111" stroke-width="0.8"/>
<rect x="92.00" y="358.80" width="4.40" height="4.40" fill="#fff" stroke="#111" stroke-width="0.8"/>
<rect x="98.40" y="359.80" width="4.40" height="4.40" fill="#fff" stroke="#111" stroke-width="0.8"/>
<rect x="105.00" y="359.80" width="4.40" height="4.40" fill="#fff" stroke="#111" stroke-width="0.8"/>
<path d="M48.70,302.94 L49.69,303.19 L50.68,303.47 L51.67,303.79 L52.67,304.16 L53.66,304.57 L54.65,305.03 L55.64,305.55 L56.63,306.14 L57.62,306.80 L58.62,307.53 L59.61,308.35 L60.60,309.25 L61.59,310.25 L62.58,311.36 L63.57,312.56 L64.56,313.87 L65.56,315.29 L66.55,316.82 L67.54,318.45 L68.53,320.17 L69.52,321.99 L70.51,323.89 L71.51,325.85 L72.50,327.86 L73.49,329.90 L74.48,331.95 L75.47,334.00 L76.46,336.03 L77.45,338.02 L78.45,339.94 L79.44,341.79 L80.43,343.56 L81.42,345.24 L82.41,346.81 L83.40,348.28 L84.39,349.64 L85.39,350.89 L86.38,352.04 L87.37,353.09 L88.36,354.03 L89.35,354.89 L90.34,355.66 L91.34,356.35 L92.33,356.97 L93.32,357.52 L94.31,358.01 L95.30,358.44 L96.29,358.83 L97.28,359.17 L98.28,359.46 L99.27,359.73 L100.26,359.96 L101.25,360.16 L102.24,360.34 L103.23,360.50 L104.23,360.64 L105.22,360.76 L106.21,360.87 L107.20,360.96" fill="none" stroke="#111" stroke-width="0.8"/>
<path d="M48.70,303.00 L51.20,307.38 L46.20,307.38 Z" fill="#fff" stroke="#111" stroke-width="0.8"/>
<path d="M55.30,303.00 L57.80,307.38 L52.80,307.38 Z" fill="#fff" stroke="#111" stroke-width="0.8"/>
<path d="M62.20,303.00 L64.70,307.38 L59.70,307.38 Z" fill="#fff" stroke="#111" stroke-width="0.8"/>
<path d="M68.80,319.40 L71.30,323.77 L66.30,323.77 Z" fill="#fff" stroke="#111" stroke-width="0.8"/>
<path d="M75.20,334.90 L77.70,339.27 L72.70,339.27 Z" fill="#fff" stroke="#111" stroke-width="0.8"/>
<path d="M81.60,341.90 L84.10,346.27 L79.10,346.27 Z" fill="#fff" stroke="#111" stroke-width="0.8"/>
<path d="M88.20,347.50 L90.70,351.88 L85.70,351.88 Z" fill="#fff" stroke="#111" stroke-width="0.8"/>
<path d="M94.20,355.50 L96.70,359.88 L91.70,359.88 Z" fill="#fff" stroke="#111" stroke-width="0.8"/>
<path d="M100.60,359.00 L103.10,363.38 L98.10,363.38 Z" fill="#fff" stroke="#111" stroke-width="0.8"/>
<path d="M107.20,359.50 L109.70,363.88 L104.70,363.88 Z" fill="#fff" stroke="#111" stroke-width="0.8"/>
<path d="M48.70,302.98 L49.69,303.34 L50.68,303.73 L51.67,304.15 L52.67,304.61 L53.66,305.11 L54.65,305.65 L55.64,306.24 L56.63,306.88 L57.62,307.58 L58.62,308.32 L59.61,309.13 L60.60,309.99 L61.59,310.91 L62.58,311.90 L63.57,312.95 L64.56,314.06 L65.56,315.24 L66.55,316.48 L67.54,317.79 L68.53,319.15 L69.52,320.57 L70.51,322.04 L71.51,323.56 L72.50,325.12 L73.49,326.72 L74.48,328.34 L75.47,329.99 L76.46,331.64 L77.45,333.31 L78.45,334.96 L79.44,336.61 L80.43,338.23 L81.42,339.82 L82.41,341.38 L83.40,342.90 L84.39,344.37 L85.39,345.79 L86.38,347.15 L87.37,348.45 L88.36,349.69 L89.35,350.87 L90.34,351.98 L91.34,353.03 L92.33,354.01 L93.32,354.93 L94.31,355.79 L95.30,356.59 L96.29,357.34 L97.28,358.03 L98.28,358.66 L99.27,359.25 L100.26,359.80 L101.25,360.29 L102.24,360.75 L103.23,361.17 L104.23,361.56 L105.22,361.91 L106.21,362.23 L107.20,362.53" fill="none" stroke="#111" stroke-width="0.8"/>
<path d="M48.70,308.00 L51.20,303.62 L46.20,303.62 Z" fill="#111" stroke="#111" stroke-width="0.8"/>
<path d="M55.30,308.00 L57.80,303.62 L52.80,303.62 Z" fill="#111" stroke="#111" stroke-width="0.8"/>
<path d="M62.20,308.90 L64.70,304.52 L59.70,304.52 Z" fill="#111" stroke="#111" stroke-width="0.8"/>
<path d="M68.80,322.70 L71.30,318.32 L66.30,318.32 Z" fill="#111" stroke="#111" stroke-width="0.8"/>
<path d="M75.20,338.20 L77.70,333.82 L72.70,333.82 Z" fill="#111" stroke="#111" stroke-width="0.8"/>
<path d="M81.60,339.90 L84.10,335.52 L79.10,335.52 Z" fill="#111" stroke="#111" stroke-width="0.8"/>
<path d="M88.20,348.70 L90.70,344.32 L85.70,344.32 Z" fill="#111" stroke="#111" stroke-width="0.8"/>
<path d="M94.20,359.50 L96.70,355.12 L91.70,355.12 Z" fill="#111" stroke="#111" stroke-width="0.8"/>
<path d="M100.60,364.00 L103.10,359.62 L98.10,359.62 Z" fill="#111" stroke="#111" stroke-width="0.8"/>
<path d="M107.20,364.50 L109.70,360.12 L104.70,360.12 Z" fill="#111" stroke="#111" stroke-width="0.8"/>
<path d="M48.70,302.42 L49.69,302.44 L50.68,302.46 L51.67,302.48 L52.67,302.51 L53.66,302.54 L54.65,302.58 L55.64,302.62 L56.63,302.68 L57.62,302.75 L58.62,302.83 L59.61,302.92 L60.60,303.03 L61.59,303.16 L62.58,303.32 L63.57,303.51 L64.56,303.73 L65.56,304.00 L66.55,304.31 L67.54,304.68 L68.53,305.12 L69.52,305.63 L70.51,306.23 L71.51,306.93 L72.50,307.74 L73.49,308.68 L74.48,309.77 L75.47,311.01 L76.46,312.41 L77.45,314.00 L78.45,315.77 L79.44,317.73 L80.43,319.86 L81.42,322.17 L82.41,324.62 L83.40,327.19 L84.39,329.85 L85.39,332.56 L86.38,335.27 L87.37,337.94 L88.36,340.54 L89.35,343.02 L90.34,345.37 L91.34,347.55 L92.33,349.55 L93.32,351.37 L94.31,353.00 L95.30,354.45 L96.29,355.73 L97.28,356.86 L98.28,357.83 L99.27,358.68 L100.26,359.40 L101.25,360.03 L102.24,360.56 L103.23,361.01 L104.23,361.40 L105.22,361.73 L106.21,362.00 L107.20,362.23" fill="none" stroke="#111" stroke-width="0.8"/>
<circle cx="48.70" cy="305.50" r="2.20" fill="#fff" stroke="#111" stroke-width="0.8"/>
<circle cx="55.30" cy="303.80" r="2.20" fill="#fff" stroke="#111" stroke-width="0.8"/>
<circle cx="62.20" cy="301.20" r="2.20" fill="#fff" stroke="#111" stroke-width="0.8"/>
<circle cx="68.80" cy="300.30" r="2.20" fill="#fff" stroke="#111" stroke-width="0.8"/>
<circle cx="75.20" cy="313.30" r="2.20" fill="#fff" stroke="#111" stroke-width="0.8"/>
<circle cx="81.60" cy="323.70" r="2.20" fill="#fff" stroke="#111" stroke-width="0.8"/>
<circle cx="88.20" cy="338.40" r="2.20" fill="#fff" stroke="#111" stroke-width="0.8"/>
<circle cx="94.20" cy="353.10" r="2.20" fill="#fff" stroke="#111" stroke-width="0.8"/>
<circle cx="100.60" cy="360.90" r="2.20" fill="#fff" stroke="#111" stroke-width="0.8"/>
<circle cx="107.20" cy="361.40" r="2.20" fill="#fff" stroke="#111" stroke-width="0.8"/>
<line x1="68.80" y1="296.50" x2="68.80" y2="303.00" stroke="#111" stroke-width="0.8"/>
<line x1="67.30" y1="296.50" x2="70.30" y2="296.50" stroke="#111" stroke-width="0.8"/>
<rect x="92.22" y="359.52" width="3.96" height="3.96" fill="#111" stroke="#111" stroke-width="0.8"/>
<rect x="98.62" y="360.02" width="3.96" height="3.96" fill="#111" stroke="#111" stroke-width="0.8"/>
<rect x="105.22" y="359.52" width="3.96" height="3.96" fill="#111" stroke="#111" stroke-width="0.8"/>
<text id="t76" x="46.58" y="387.10" font-size="8.2" textLength="67.80" lengthAdjust="spacingAndGlyphs" fill="#111" style="stroke-width:0.5px">SG3<tspan class="o">1</tspan>99 (nmol/L)</text>
<text id="t77" x="0" y="0" font-size="8.0" textLength="48.77" lengthAdjust="spacingAndGlyphs" fill="#111" style="stroke-width:0.3px" transform="translate(14.62,350.57) rotate(-90)">Viability (%)</text>
<line x1="168.60" y1="300.50" x2="168.60" y2="363.60" stroke="#555" stroke-width="1.1"/>
<line x1="168.10" y1="363.10" x2="247.80" y2="363.10" stroke="#555" stroke-width="1.1"/>
<line x1="166.60" y1="308.60" x2="168.60" y2="308.60" stroke="#555" stroke-width="1.0"/>
<text id="t78" x="149.85" y="311.68" font-size="8.3" textLength="15.45" lengthAdjust="spacingAndGlyphs" fill="#111" style="stroke-width:0.5px"><tspan class="o">1</tspan>00</text>
<line x1="166.60" y1="335.90" x2="168.60" y2="335.90" stroke="#555" stroke-width="1.0"/>
<text id="t79" x="155.61" y="338.98" font-size="8.3" textLength="9.90" lengthAdjust="spacingAndGlyphs" fill="#111" style="stroke-width:0.5px">50</text>
<line x1="166.60" y1="363.10" x2="168.60" y2="363.10" stroke="#555" stroke-width="1.0"/>
<text id="t80" x="160.86" y="366.18" font-size="8.3" textLength="4.50" lengthAdjust="spacingAndGlyphs" fill="#111" style="stroke-width:0.5px">0</text>
<line x1="168.35" y1="363.10" x2="168.35" y2="365.10" stroke="#555" stroke-width="1.0"/>
<text id="t81" x="159.62" y="375.08" font-size="8.3" textLength="18.82" lengthAdjust="spacingAndGlyphs" fill="#111" style="stroke-width:0.5px">0.0<tspan class="o">1</tspan></text>
<line x1="202.10" y1="363.10" x2="202.10" y2="365.10" stroke="#555" stroke-width="1.0"/>
<text id="t82" x="196.67" y="375.08" font-size="8.3" textLength="10.22" lengthAdjust="spacingAndGlyphs" fill="#111" style="stroke-width:0.5px"><tspan class="o">1</tspan>0</text>
<line x1="236.60" y1="363.10" x2="236.60" y2="365.10" stroke="#555" stroke-width="1.0"/>
<text id="t83" x="222.40" y="375.08" font-size="8.3" textLength="27.88" lengthAdjust="spacingAndGlyphs" fill="#111" style="stroke-width:0.5px"><tspan class="o">1</tspan>0,000</text>
<path d="M177.60,310.85 L178.52,310.85 L179.44,310.85 L180.36,310.85 L181.28,310.86 L182.20,310.86 L183.12,310.87 L184.04,310.91 L184.96,310.99 L185.88,311.20 L186.80,311.74 L187.72,313.04 L188.64,316.00 L189.56,321.75 L190.48,330.18 L191.41,338.54 L192.33,344.17 L193.25,347.04 L194.17,348.30 L195.09,348.82 L196.01,349.02 L196.93,349.10 L197.85,349.13 L198.77,349.15 L199.69,349.15 L200.61,349.15 L201.53,349.15 L202.45,349.15 L203.37,349.15 L204.29,349.15 L205.21,349.15 L206.13,349.15 L207.05,349.15 L207.97,349.15 L208.89,349.15 L209.81,349.15 L210.73,349.15 L211.65,349.15 L212.57,349.15 L213.49,349.15 L214.41,349.15 L215.33,349.15 L216.25,349.15 L217.17,349.15 L218.09,349.15 L219.02,349.15 L219.94,349.15 L220.86,349.15 L221.78,349.15 L222.70,349.15 L223.62,349.15 L224.54,349.15 L225.46,349.15 L226.38,349.15 L227.30,349.15 L228.22,349.15 L229.14,349.15 L230.06,349.15 L230.98,349.15 L231.90,349.15" fill="none" stroke="#111" stroke-width="0.8"/>
<rect x="175.51" y="308.81" width="4.18" height="4.18" fill="#fff" stroke="#111" stroke-width="0.8"/>
<rect x="182.51" y="308.81" width="4.18" height="4.18" fill="#fff" stroke="#111" stroke-width="0.8"/>
<rect x="188.91" y="333.01" width="4.18" height="4.18" fill="#fff" stroke="#111" stroke-width="0.8"/>
<rect x="195.91" y="346.81" width="4.18" height="4.18" fill="#fff" stroke="#111" stroke-width="0.8"/>
<rect x="202.71" y="345.91" width="4.18" height="4.18" fill="#fff" stroke="#111" stroke-width="0.8"/>
<rect x="209.51" y="346.81" width="4.18" height="4.18" fill="#fff" stroke="#111" stroke-width="0.8"/>
<rect x="215.91" y="346.81" width="4.18" height="4.18" fill="#fff" stroke="#111" stroke-width="0.8"/>
<rect x="222.91" y="347.61" width="4.18" height="4.18" fill="#fff" stroke="#111" stroke-width="0.8"/>
<rect x="229.81" y="348.41" width="4.18" height="4.18" fill="#fff" stroke="#111" stroke-width="0.8"/>
<path d="M177.60,309.15 L178.52,309.15 L179.44,309.15 L180.36,309.15 L181.28,309.16 L182.20,309.16 L183.12,309.17 L184.04,309.21 L184.96,309.29 L185.88,309.50 L186.80,310.04 L187.72,311.34 L188.64,314.30 L189.56,320.05 L190.48,328.48 L191.41,336.84 L192.33,342.47 L193.25,345.34 L194.17,346.60 L195.09,347.12 L196.01,347.32 L196.93,347.40 L197.85,347.43 L198.77,347.45 L199.69,347.45 L200.61,347.45 L201.53,347.45 L202.45,347.45 L203.37,347.45 L204.29,347.45 L205.21,347.45 L206.13,347.45 L207.05,347.45 L207.97,347.45 L208.89,347.45 L209.81,347.45 L210.73,347.45 L211.65,347.45 L212.57,347.45 L213.49,347.45 L214.41,347.45 L215.33,347.45 L216.25,347.45 L217.17,347.45 L218.09,347.45 L219.02,347.45 L219.94,347.45 L220.86,347.45 L221.78,347.45 L222.70,347.45 L223.62,347.45 L224.54,347.45 L225.46,347.45 L226.38,347.45 L227.30,347.45 L228.22,347.45 L229.14,347.45 L230.06,347.45 L230.98,347.45 L231.90,347.45" fill="none" stroke="#111" stroke-width="0.8"/>
<path d="M177.60,306.82 L179.97,310.98 L175.22,310.98 Z" fill="#fff" stroke="#111" stroke-width="0.8"/>
<path d="M184.60,306.82 L186.97,310.98 L182.22,310.98 Z" fill="#fff" stroke="#111" stroke-width="0.8"/>
<path d="M191.00,331.02 L193.38,335.18 L188.62,335.18 Z" fill="#fff" stroke="#111" stroke-width="0.8"/>
<path d="M198.00,344.82 L200.38,348.98 L195.62,348.98 Z" fill="#fff" stroke="#111" stroke-width="0.8"/>
<path d="M204.80,343.93 L207.18,348.08 L202.43,348.08 Z" fill="#fff" stroke="#111" stroke-width="0.8"/>
<path d="M211.60,344.82 L213.97,348.98 L209.22,348.98 Z" fill="#fff" stroke="#111" stroke-width="0.8"/>
<path d="M218.00,344.82 L220.38,348.98 L215.62,348.98 Z" fill="#fff" stroke="#111" stroke-width="0.8"/>
<path d="M225.00,345.62 L227.38,349.78 L222.62,349.78 Z" fill="#fff" stroke="#111" stroke-width="0.8"/>
<path d="M231.90,346.43 L234.28,350.58 L229.53,350.58 Z" fill="#fff" stroke="#111" stroke-width="0.8"/>
<path d="M177.60,308.15 L178.52,308.15 L179.44,308.15 L180.36,308.15 L181.28,308.16 L182.20,308.16 L183.12,308.17 L184.04,308.21 L184.96,308.29 L185.88,308.50 L186.80,309.04 L187.72,310.34 L188.64,313.30 L189.56,319.05 L190.48,327.48 L191.41,335.84 L192.33,341.47 L193.25,344.34 L194.17,345.60 L195.09,346.12 L196.01,346.32 L196.93,346.40 L197.85,346.43 L198.77,346.45 L199.69,346.45 L200.61,346.45 L201.53,346.45 L202.45,346.45 L203.37,346.45 L204.29,346.45 L205.21,346.45 L206.13,346.45 L207.05,346.45 L207.97,346.45 L208.89,346.45 L209.81,346.45 L210.73,346.45 L211.65,346.45 L212.57,346.45 L213.49,346.45 L214.41,346.45 L215.33,346.45 L216.25,346.45 L217.17,346.45 L218.09,346.45 L219.02,346.45 L219.94,346.45 L220.86,346.45 L221.78,346.45 L222.70,346.45 L223.62,346.45 L224.54,346.45 L225.46,346.45 L226.38,346.45 L227.30,346.45 L228.22,346.45 L229.14,346.45 L230.06,346.45 L230.98,346.45 L231.90,346.45" fill="none" stroke="#111" stroke-width="0.8"/>
<path d="M177.60,310.57 L179.97,306.42 L175.22,306.42 Z" fill="#111" stroke="#111" stroke-width="0.8"/>
<path d="M184.60,310.57 L186.97,306.42 L182.22,306.42 Z" fill="#111" stroke="#111" stroke-width="0.8"/>
<path d="M191.00,334.77 L193.38,330.62 L188.62,330.62 Z" fill="#111" stroke="#111" stroke-width="0.8"/>
<path d="M198.00,348.57 L200.38,344.42 L195.62,344.42 Z" fill="#111" stroke="#111" stroke-width="0.8"/>
<path d="M204.80,347.68 L207.18,343.52 L202.43,343.52 Z" fill="#111" stroke="#111" stroke-width="0.8"/>
<path d="M211.60,348.57 L213.97,344.42 L209.22,344.42 Z" fill="#111" stroke="#111" stroke-width="0.8"/>
<path d="M218.00,348.57 L220.38,344.42 L215.62,344.42 Z" fill="#111" stroke="#111" stroke-width="0.8"/>
<path d="M225.00,349.38 L227.38,345.22 L222.62,345.22 Z" fill="#111" stroke="#111" stroke-width="0.8"/>
<path d="M231.90,350.18 L234.28,346.02 L229.53,346.02 Z" fill="#111" stroke="#111" stroke-width="0.8"/>
<path d="M177.60,309.07 L178.52,309.21 L179.44,309.37 L180.36,309.57 L181.28,309.80 L182.20,310.07 L183.12,310.39 L184.04,310.77 L184.96,311.21 L185.88,311.72 L186.80,312.31 L187.72,312.98 L188.64,313.75 L189.56,314.62 L190.48,315.59 L191.41,316.66 L192.33,317.83 L193.25,319.10 L194.17,320.44 L195.09,321.85 L196.01,323.30 L196.93,324.78 L197.85,326.25 L198.77,327.69 L199.69,329.08 L200.61,330.41 L201.53,331.65 L202.45,332.80 L203.37,333.84 L204.29,334.79 L205.21,335.63 L206.13,336.37 L207.05,337.03 L207.97,337.59 L208.89,338.09 L209.81,338.51 L210.73,338.87 L211.65,339.18 L212.57,339.44 L213.49,339.66 L214.41,339.85 L215.33,340.00 L216.25,340.14 L217.17,340.25 L218.09,340.34 L219.02,340.42 L219.94,340.49 L220.86,340.54 L221.78,340.59 L222.70,340.63 L223.62,340.66 L224.54,340.68 L225.46,340.71 L226.38,340.73 L227.30,340.74 L228.22,340.75 L229.14,340.77 L230.06,340.77 L230.98,340.78 L231.90,340.79" fill="none" stroke="#111" stroke-width="0.8"/>
<circle cx="177.60" cy="308.90" r="2.09" fill="#fff" stroke="#111" stroke-width="0.8"/>
<circle cx="184.60" cy="311.30" r="2.09" fill="#fff" stroke="#111" stroke-width="0.8"/>
<circle cx="191.00" cy="316.20" r="2.09" fill="#fff" stroke="#111" stroke-width="0.8"/>
<circle cx="198.00" cy="325.80" r="2.09" fill="#fff" stroke="#111" stroke-width="0.8"/>
<circle cx="204.80" cy="337.20" r="2.09" fill="#fff" stroke="#111" stroke-width="0.8"/>
<circle cx="211.60" cy="336.30" r="2.09" fill="#fff" stroke="#111" stroke-width="0.8"/>
<circle cx="218.00" cy="341.20" r="2.09" fill="#fff" stroke="#111" stroke-width="0.8"/>
<circle cx="225.00" cy="340.40" r="2.09" fill="#fff" stroke="#111" stroke-width="0.8"/>
<circle cx="231.90" cy="341.70" r="2.09" fill="#fff" stroke="#111" stroke-width="0.8"/>
<line x1="198.00" y1="341.00" x2="198.00" y2="349.00" stroke="#111" stroke-width="0.8"/>
<line x1="196.50" y1="341.00" x2="199.50" y2="341.00" stroke="#111" stroke-width="0.8"/>
<line x1="204.80" y1="340.00" x2="204.80" y2="350.00" stroke="#111" stroke-width="0.8"/>
<line x1="203.30" y1="340.00" x2="206.30" y2="340.00" stroke="#111" stroke-width="0.8"/>
<line x1="211.60" y1="340.00" x2="211.60" y2="350.00" stroke="#111" stroke-width="0.8"/>
<line x1="210.10" y1="340.00" x2="213.10" y2="340.00" stroke="#111" stroke-width="0.8"/>
<text id="t84" x="171.22" y="387.50" font-size="8.2" textLength="73.46" lengthAdjust="spacingAndGlyphs" fill="#111" style="stroke-width:0.5px">MEDI064<tspan class="o">1</tspan> (ng/mL)</text>
<text id="t85" x="0" y="0" font-size="8.0" textLength="48.67" lengthAdjust="spacingAndGlyphs" fill="#111" style="stroke-width:0.3px" transform="translate(145.63,352.71) rotate(-90)">Viability (%)</text>
<line x1="293.60" y1="300.50" x2="293.60" y2="363.80" stroke="#555" stroke-width="1.1"/>
<line x1="293.10" y1="363.30" x2="377.00" y2="363.30" stroke="#555" stroke-width="1.1"/>
<line x1="291.60" y1="308.60" x2="293.60" y2="308.60" stroke="#555" stroke-width="1.0"/>
<text id="t86" x="274.64" y="311.68" font-size="8.3" textLength="15.12" lengthAdjust="spacingAndGlyphs" fill="#111" style="stroke-width:0.5px"><tspan class="o">1</tspan>00</text>
<line x1="291.60" y1="336.20" x2="293.60" y2="336.20" stroke="#555" stroke-width="1.0"/>
<text id="t87" x="280.19" y="339.28" font-size="8.3" textLength="9.61" lengthAdjust="spacingAndGlyphs" fill="#111" style="stroke-width:0.5px">50</text>
<line x1="291.60" y1="363.30" x2="293.60" y2="363.30" stroke="#555" stroke-width="1.0"/>
<text id="t88" x="285.56" y="366.38" font-size="8.3" textLength="4.66" lengthAdjust="spacingAndGlyphs" fill="#111" style="stroke-width:0.5px">0</text>
<line x1="292.75" y1="363.30" x2="292.75" y2="365.30" stroke="#555" stroke-width="1.0"/>
<text id="t89" x="284.45" y="375.18" font-size="8.3" textLength="18.54" lengthAdjust="spacingAndGlyphs" fill="#111" style="stroke-width:0.5px">0.0<tspan class="o">1</tspan></text>
<line x1="329.30" y1="363.30" x2="329.30" y2="365.30" stroke="#555" stroke-width="1.0"/>
<text id="t90" x="323.70" y="375.18" font-size="8.3" textLength="10.58" lengthAdjust="spacingAndGlyphs" fill="#111" style="stroke-width:0.5px"><tspan class="o">1</tspan>0</text>
<line x1="364.95" y1="363.30" x2="364.95" y2="365.30" stroke="#555" stroke-width="1.0"/>
<text id="t91" x="350.76" y="375.18" font-size="8.3" textLength="27.59" lengthAdjust="spacingAndGlyphs" fill="#111" style="stroke-width:0.5px"><tspan class="o">1</tspan>0,000</text>
<path d="M302.50,309.28 L303.48,309.28 L304.45,309.29 L305.43,309.29 L306.41,309.29 L307.38,309.29 L308.36,309.29 L309.33,309.29 L310.31,309.29 L311.29,309.29 L312.26,309.29 L313.24,309.30 L314.22,309.31 L315.19,309.32 L316.17,309.35 L317.14,309.38 L318.12,309.45 L319.10,309.55 L320.07,309.72 L321.05,309.99 L322.03,310.43 L323.00,311.14 L323.98,312.23 L324.95,313.91 L325.93,316.34 L326.91,319.69 L327.88,323.91 L328.86,328.73 L329.84,333.60 L330.81,337.99 L331.79,341.53 L332.76,344.16 L333.74,345.98 L334.72,347.18 L335.69,347.96 L336.67,348.44 L337.65,348.75 L338.62,348.93 L339.60,349.05 L340.57,349.12 L341.55,349.16 L342.53,349.19 L343.50,349.20 L344.48,349.21 L345.46,349.22 L346.43,349.22 L347.41,349.23 L348.38,349.23 L349.36,349.23 L350.34,349.23 L351.31,349.23 L352.29,349.23 L353.27,349.23 L354.24,349.23 L355.22,349.23 L356.19,349.23 L357.17,349.23 L358.15,349.23 L359.12,349.23 L360.10,349.23" fill="none" stroke="#111" stroke-width="0.8"/>
<ellipse cx="302.50" cy="309.10" rx="2.28" ry="1.90" fill="#777" stroke="#111" stroke-width="0.8"/>
<ellipse cx="309.90" cy="309.10" rx="2.28" ry="1.90" fill="#777" stroke="#111" stroke-width="0.8"/>
<ellipse cx="316.80" cy="310.30" rx="2.28" ry="1.90" fill="#777" stroke="#111" stroke-width="0.8"/>
<ellipse cx="324.30" cy="312.00" rx="2.28" ry="1.90" fill="#777" stroke="#111" stroke-width="0.8"/>
<ellipse cx="330.70" cy="338.00" rx="2.28" ry="1.90" fill="#777" stroke="#111" stroke-width="0.8"/>
<ellipse cx="338.10" cy="344.10" rx="2.28" ry="1.90" fill="#777" stroke="#111" stroke-width="0.8"/>
<ellipse cx="345.40" cy="350.10" rx="2.28" ry="1.90" fill="#777" stroke="#111" stroke-width="0.8"/>
<ellipse cx="352.60" cy="351.00" rx="2.28" ry="1.90" fill="#777" stroke="#111" stroke-width="0.8"/>
<ellipse cx="360.10" cy="351.00" rx="2.28" ry="1.90" fill="#777" stroke="#111" stroke-width="0.8"/>
<path d="M302.50,307.88 L303.48,307.89 L304.45,307.89 L305.43,307.89 L306.41,307.89 L307.38,307.89 L308.36,307.89 L309.33,307.89 L310.31,307.89 L311.29,307.89 L312.26,307.89 L313.24,307.90 L314.22,307.91 L315.19,307.92 L316.17,307.95 L317.14,307.98 L318.12,308.05 L319.10,308.15 L320.07,308.32 L321.05,308.59 L322.03,309.03 L323.00,309.74 L323.98,310.83 L324.95,312.51 L325.93,314.94 L326.91,318.29 L327.88,322.51 L328.86,327.33 L329.84,332.20 L330.81,336.59 L331.79,340.13 L332.76,342.76 L333.74,344.58 L334.72,345.78 L335.69,346.56 L336.67,347.04 L337.65,347.35 L338.62,347.53 L339.60,347.65 L340.57,347.72 L341.55,347.76 L342.53,347.79 L343.50,347.80 L344.48,347.81 L345.46,347.82 L346.43,347.82 L347.41,347.83 L348.38,347.83 L349.36,347.83 L350.34,347.83 L351.31,347.83 L352.29,347.83 L353.27,347.83 L354.24,347.83 L355.22,347.83 L356.19,347.83 L357.17,347.83 L358.15,347.83 L359.12,347.83 L360.10,347.83" fill="none" stroke="#111" stroke-width="0.8"/>
<polygon points="302.50,305.23 303.11,306.85 304.85,306.94 303.49,308.02 303.95,309.70 302.50,308.75 301.05,309.70 301.51,308.02 300.15,306.94 301.89,306.85" fill="#fff" stroke="#111" stroke-width="0.7"/>
<polygon points="309.90,305.23 310.51,306.85 312.25,306.94 310.89,308.02 311.35,309.70 309.90,308.75 308.45,309.70 308.91,308.02 307.55,306.94 309.29,306.85" fill="#fff" stroke="#111" stroke-width="0.7"/>
<polygon points="316.80,306.43 317.41,308.05 319.15,308.14 317.79,309.22 318.25,310.90 316.80,309.94 315.35,310.90 315.81,309.22 314.45,308.14 316.19,308.05" fill="#fff" stroke="#111" stroke-width="0.7"/>
<polygon points="324.30,308.13 324.91,309.75 326.65,309.84 325.29,310.92 325.75,312.60 324.30,311.64 322.85,312.60 323.31,310.92 321.95,309.84 323.69,309.75" fill="#fff" stroke="#111" stroke-width="0.7"/>
<polygon points="330.70,334.13 331.31,335.75 333.05,335.84 331.69,336.92 332.15,338.60 330.70,337.64 329.25,338.60 329.71,336.92 328.35,335.84 330.09,335.75" fill="#fff" stroke="#111" stroke-width="0.7"/>
<polygon points="338.10,340.23 338.71,341.85 340.45,341.94 339.09,343.02 339.55,344.70 338.10,343.75 336.65,344.70 337.11,343.02 335.75,341.94 337.49,341.85" fill="#fff" stroke="#111" stroke-width="0.7"/>
<polygon points="345.40,346.23 346.01,347.85 347.75,347.94 346.39,349.02 346.85,350.70 345.40,349.75 343.95,350.70 344.41,349.02 343.05,347.94 344.79,347.85" fill="#fff" stroke="#111" stroke-width="0.7"/>
<polygon points="352.60,347.13 353.21,348.75 354.95,348.84 353.59,349.92 354.05,351.60 352.60,350.64 351.15,351.60 351.61,349.92 350.25,348.84 351.99,348.75" fill="#fff" stroke="#111" stroke-width="0.7"/>
<polygon points="360.10,347.13 360.71,348.75 362.45,348.84 361.09,349.92 361.55,351.60 360.10,350.64 358.65,351.60 359.11,349.92 357.75,348.84 359.49,348.75" fill="#fff" stroke="#111" stroke-width="0.7"/>
<path d="M302.50,308.68 L303.48,308.68 L304.45,308.69 L305.43,308.69 L306.41,308.69 L307.38,308.69 L308.36,308.69 L309.33,308.69 L310.31,308.69 L311.29,308.69 L312.26,308.69 L313.24,308.70 L314.22,308.71 L315.19,308.72 L316.17,308.75 L317.14,308.78 L318.12,308.85 L319.10,308.95 L320.07,309.12 L321.05,309.39 L322.03,309.83 L323.00,310.54 L323.98,311.63 L324.95,313.31 L325.93,315.74 L326.91,319.09 L327.88,323.31 L328.86,328.13 L329.84,333.00 L330.81,337.39 L331.79,340.93 L332.76,343.56 L333.74,345.38 L334.72,346.58 L335.69,347.36 L336.67,347.84 L337.65,348.15 L338.62,348.33 L339.60,348.45 L340.57,348.52 L341.55,348.56 L342.53,348.59 L343.50,348.60 L344.48,348.61 L345.46,348.62 L346.43,348.62 L347.41,348.63 L348.38,348.63 L349.36,348.63 L350.34,348.63 L351.31,348.63 L352.29,348.63 L353.27,348.63 L354.24,348.63 L355.22,348.63 L356.19,348.63 L357.17,348.63 L358.15,348.63 L359.12,348.63 L360.10,348.63" fill="none" stroke="#111" stroke-width="0.8"/>
<path d="M302.50,310.88 L304.88,306.72 L300.12,306.72 Z" fill="#111" stroke="#111" stroke-width="0.8"/>
<path d="M309.90,310.88 L312.27,306.72 L307.52,306.72 Z" fill="#111" stroke="#111" stroke-width="0.8"/>
<path d="M316.80,312.07 L319.18,307.92 L314.43,307.92 Z" fill="#111" stroke="#111" stroke-width="0.8"/>
<path d="M324.30,313.77 L326.68,309.62 L321.93,309.62 Z" fill="#111" stroke="#111" stroke-width="0.8"/>
<path d="M330.70,339.77 L333.07,335.62 L328.32,335.62 Z" fill="#111" stroke="#111" stroke-width="0.8"/>
<path d="M338.10,345.88 L340.48,341.72 L335.73,341.72 Z" fill="#111" stroke="#111" stroke-width="0.8"/>
<path d="M345.40,351.88 L347.77,347.72 L343.02,347.72 Z" fill="#111" stroke="#111" stroke-width="0.8"/>
<path d="M352.60,352.77 L354.98,348.62 L350.23,348.62 Z" fill="#111" stroke="#111" stroke-width="0.8"/>
<path d="M360.10,352.77 L362.48,348.62 L357.73,348.62 Z" fill="#111" stroke="#111" stroke-width="0.8"/>
<path d="M302.50,308.21 L303.48,308.23 L304.45,308.26 L305.43,308.29 L306.41,308.33 L307.38,308.37 L308.36,308.43 L309.33,308.49 L310.31,308.57 L311.29,308.66 L312.26,308.77 L313.24,308.90 L314.22,309.06 L315.19,309.24 L316.17,309.46 L317.14,309.72 L318.12,310.02 L319.10,310.38 L320.07,310.79 L321.05,311.28 L322.03,311.84 L323.00,312.48 L323.98,313.21 L324.95,314.03 L325.93,314.95 L326.91,315.96 L327.88,317.06 L328.86,318.25 L329.84,319.50 L330.81,320.81 L331.79,322.15 L332.76,323.51 L333.74,324.85 L334.72,326.17 L335.69,327.43 L336.67,328.62 L337.65,329.73 L338.62,330.75 L339.60,331.67 L340.57,332.50 L341.55,333.24 L342.53,333.89 L343.50,334.45 L344.48,334.94 L345.46,335.37 L346.43,335.73 L347.41,336.04 L348.38,336.30 L349.36,336.52 L350.34,336.71 L351.31,336.86 L352.29,337.00 L353.27,337.11 L354.24,337.20 L355.22,337.28 L356.19,337.34 L357.17,337.40 L358.15,337.44 L359.12,337.48 L360.10,337.51" fill="none" stroke="#111" stroke-width="0.8"/>
<rect x="300.41" y="306.21" width="4.18" height="4.18" fill="#fff" stroke="#111" stroke-width="0.8"/>
<rect x="307.81" y="307.41" width="4.18" height="4.18" fill="#fff" stroke="#111" stroke-width="0.8"/>
<rect x="314.71" y="307.41" width="4.18" height="4.18" fill="#fff" stroke="#111" stroke-width="0.8"/>
<rect x="322.21" y="309.11" width="4.18" height="4.18" fill="#fff" stroke="#111" stroke-width="0.8"/>
<rect x="328.61" y="320.41" width="4.18" height="4.18" fill="#fff" stroke="#111" stroke-width="0.8"/>
<rect x="336.01" y="328.21" width="4.18" height="4.18" fill="#fff" stroke="#111" stroke-width="0.8"/>
<rect x="343.31" y="331.61" width="4.18" height="4.18" fill="#fff" stroke="#111" stroke-width="0.8"/>
<rect x="350.51" y="333.41" width="4.18" height="4.18" fill="#fff" stroke="#111" stroke-width="0.8"/>
<rect x="358.01" y="338.01" width="4.18" height="4.18" fill="#fff" stroke="#111" stroke-width="0.8"/>
<line x1="316.80" y1="303.00" x2="316.80" y2="315.00" stroke="#111" stroke-width="0.8"/>
<line x1="315.30" y1="303.00" x2="318.30" y2="303.00" stroke="#111" stroke-width="0.8"/>
<line x1="315.30" y1="315.00" x2="318.30" y2="315.00" stroke="#111" stroke-width="0.8"/>
<text id="t92" x="288.33" y="385.60" font-size="8.2" textLength="85.52" lengthAdjust="spacingAndGlyphs" fill="#111" style="stroke-width:0.5px">Trastuzumab-SG3249</text>
<text id="t93" x="315.31" y="395.30" font-size="8.2" textLength="30.61" lengthAdjust="spacingAndGlyphs" fill="#111" style="stroke-width:0.5px">(ng/mL)</text>
<text id="t94" x="0" y="0" font-size="8.0" textLength="48.67" lengthAdjust="spacingAndGlyphs" fill="#111" style="stroke-width:0.3px" transform="translate(269.63,352.71) rotate(-90)">Viability (%)</text>
<line x1="358.30" y1="286.20" x2="366.30" y2="286.20" stroke="#333" stroke-width="1.1"/>
<ellipse cx="362.30" cy="286.20" rx="2.16" ry="1.80" fill="#777" stroke="#222" stroke-width="0.9"/>
<text id="t95" x="369.77" y="289.20" font-size="8.2" textLength="57.76" lengthAdjust="spacingAndGlyphs" fill="#111" style="stroke-width:0.5px">Control siRNA</text>
<line x1="358.30" y1="298.20" x2="366.30" y2="298.20" stroke="#333" stroke-width="1.1"/>
<polygon points="362.30,295.86 362.88,297.40 364.53,297.48 363.24,298.51 363.68,300.09 362.30,299.19 360.92,300.09 361.36,298.51 360.07,297.48 361.72,297.40" fill="#fff" stroke="#222" stroke-width="0.7"/>
<text id="t96" x="369.78" y="301.20" font-size="8.2" textLength="144.64" lengthAdjust="spacingAndGlyphs" fill="#111" style="stroke-width:0.5px">Control siRNA, 0.5 µmol/L AZD6738</text>
<line x1="358.30" y1="311.00" x2="366.30" y2="311.00" stroke="#333" stroke-width="1.1"/>
<circle cx="362.30" cy="311.00" r="1.98" fill="#fff" stroke="#222" stroke-width="0.9"/>
<text id="t97" x="369.73" y="314.00" font-size="8.2" textLength="55.72" lengthAdjust="spacingAndGlyphs" fill="#111" style="stroke-width:0.5px">SLFN<tspan class="o">1</tspan><tspan class="o">1</tspan> siRNA</text>
<line x1="358.30" y1="322.60" x2="366.30" y2="322.60" stroke="#333" stroke-width="1.1"/>
<path d="M362.30,324.48 L364.18,321.19 L360.43,321.19 Z" fill="#222" stroke="#222" stroke-width="0.9"/>
<text id="t98" x="369.62" y="325.60" font-size="8.2" textLength="145.96" lengthAdjust="spacingAndGlyphs" fill="#111" style="stroke-width:0.5px">SLFN<tspan class="o">1</tspan><tspan class="o">1</tspan> siRNA, 0.5 µmol/L AZD6738</text>
<text id="t99" x="59.62" y="416.30" font-size="8.2" textLength="45.65" lengthAdjust="spacingAndGlyphs" fill="#111" style="stroke-width:0.5px">CCRF-CEM</text>
<line x1="42.60" y1="431.00" x2="42.60" y2="488.70" stroke="#555" stroke-width="1.1"/>
<line x1="42.10" y1="488.20" x2="124.60" y2="488.20" stroke="#555" stroke-width="1.1"/>
<line x1="40.60" y1="438.40" x2="42.60" y2="438.40" stroke="#555" stroke-width="1.0"/>
<text id="t100" x="22.92" y="441.48" font-size="8.3" textLength="15.53" lengthAdjust="spacingAndGlyphs" fill="#111" style="stroke-width:0.5px"><tspan class="o">1</tspan>00</text>
<line x1="40.60" y1="463.40" x2="42.60" y2="463.40" stroke="#555" stroke-width="1.0"/>
<text id="t101" x="28.70" y="466.48" font-size="8.3" textLength="9.88" lengthAdjust="spacingAndGlyphs" fill="#111" style="stroke-width:0.5px">50</text>
<line x1="40.60" y1="488.20" x2="42.60" y2="488.20" stroke="#555" stroke-width="1.0"/>
<text id="t102" x="34.13" y="491.28" font-size="8.3" textLength="4.40" lengthAdjust="spacingAndGlyphs" fill="#111" style="stroke-width:0.5px">0</text>
<line x1="54.00" y1="488.20" x2="54.00" y2="490.20" stroke="#555" stroke-width="1.0"/>
<text id="t103" x="42.88" y="499.98" font-size="8.3" textLength="23.78" lengthAdjust="spacingAndGlyphs" fill="#111" style="stroke-width:0.5px">0.00<tspan class="o">1</tspan></text>
<line x1="78.85" y1="488.20" x2="78.85" y2="490.20" stroke="#555" stroke-width="1.0"/>
<text id="t104" x="70.36" y="499.98" font-size="8.3" textLength="18.77" lengthAdjust="spacingAndGlyphs" fill="#111" style="stroke-width:0.5px">0.0<tspan class="o">1</tspan></text>
<line x1="103.85" y1="488.20" x2="103.85" y2="490.20" stroke="#555" stroke-width="1.0"/>
<text id="t105" x="97.74" y="499.98" font-size="8.3" textLength="13.68" lengthAdjust="spacingAndGlyphs" fill="#111" style="stroke-width:0.5px">0.<tspan class="o">1</tspan></text>
<path d="M57.30,438.47 L58.18,438.51 L59.06,438.55 L59.94,438.60 L60.82,438.65 L61.70,438.71 L62.58,438.77 L63.46,438.84 L64.34,438.92 L65.22,439.00 L66.10,439.10 L66.98,439.21 L67.86,439.32 L68.74,439.45 L69.62,439.60 L70.49,439.75 L71.37,439.93 L72.25,440.12 L73.13,440.33 L74.01,440.57 L74.89,440.82 L75.77,441.10 L76.65,441.41 L77.53,441.75 L78.41,442.12 L79.29,442.52 L80.17,442.95 L81.05,443.42 L81.93,443.93 L82.81,444.48 L83.69,445.07 L84.57,445.70 L85.45,446.38 L86.33,447.10 L87.21,447.86 L88.09,448.66 L88.97,449.50 L89.85,450.38 L90.73,451.30 L91.61,452.25 L92.49,453.22 L93.37,454.22 L94.25,455.24 L95.13,456.27 L96.01,457.31 L96.88,458.34 L97.76,459.38 L98.64,460.40 L99.52,461.40 L100.40,462.38 L101.28,463.34 L102.16,464.27 L103.04,465.16 L103.92,466.01 L104.80,466.83 L105.68,467.60 L106.56,468.33 L107.44,469.02 L108.32,469.66 L109.20,470.26" fill="none" stroke="#111" stroke-width="0.8"/>
<path d="M57.30,435.92 L59.38,438.00 L57.30,440.08 L55.22,438.00 Z" fill="#fff" stroke="#111" stroke-width="0.8"/>
<path d="M64.60,437.72 L66.68,439.80 L64.60,441.88 L62.52,439.80 Z" fill="#fff" stroke="#111" stroke-width="0.8"/>
<path d="M72.00,437.12 L74.08,439.20 L72.00,441.28 L69.92,439.20 Z" fill="#fff" stroke="#111" stroke-width="0.8"/>
<path d="M79.40,441.12 L81.48,443.20 L79.40,445.28 L77.32,443.20 Z" fill="#fff" stroke="#111" stroke-width="0.8"/>
<path d="M87.10,445.82 L89.18,447.90 L87.10,449.98 L85.02,447.90 Z" fill="#fff" stroke="#111" stroke-width="0.8"/>
<path d="M94.50,452.72 L96.58,454.80 L94.50,456.88 L92.42,454.80 Z" fill="#fff" stroke="#111" stroke-width="0.8"/>
<path d="M101.90,462.62 L103.98,464.70 L101.90,466.78 L99.82,464.70 Z" fill="#fff" stroke="#111" stroke-width="0.8"/>
<path d="M109.20,467.92 L111.28,470.00 L109.20,472.08 L107.12,470.00 Z" fill="#fff" stroke="#111" stroke-width="0.8"/>
<path d="M57.30,439.44 L58.18,439.49 L59.06,439.55 L59.94,439.63 L60.82,439.71 L61.70,439.80 L62.58,439.90 L63.46,440.02 L64.34,440.15 L65.22,440.30 L66.10,440.47 L66.98,440.66 L67.86,440.88 L68.74,441.13 L69.62,441.41 L70.49,441.72 L71.37,442.07 L72.25,442.46 L73.13,442.90 L74.01,443.39 L74.89,443.94 L75.77,444.55 L76.65,445.23 L77.53,445.97 L78.41,446.79 L79.29,447.69 L80.17,448.66 L81.05,449.72 L81.93,450.87 L82.81,452.10 L83.69,453.40 L84.57,454.79 L85.45,456.24 L86.33,457.76 L87.21,459.33 L88.09,460.95 L88.97,462.59 L89.85,464.25 L90.73,465.92 L91.61,467.57 L92.49,469.20 L93.37,470.79 L94.25,472.33 L95.13,473.81 L96.01,475.22 L96.88,476.56 L97.76,477.82 L98.64,478.99 L99.52,480.08 L100.40,481.09 L101.28,482.02 L102.16,482.87 L103.04,483.64 L103.92,484.34 L104.80,484.98 L105.68,485.55 L106.56,486.06 L107.44,486.52 L108.32,486.93 L109.20,487.30" fill="none" stroke="#111" stroke-width="0.8"/>
<circle cx="57.30" cy="438.40" r="1.76" fill="#fff" stroke="#111" stroke-width="0.8"/>
<circle cx="64.60" cy="441.00" r="1.76" fill="#fff" stroke="#111" stroke-width="0.8"/>
<circle cx="72.00" cy="442.70" r="1.76" fill="#fff" stroke="#111" stroke-width="0.8"/>
<circle cx="79.40" cy="447.90" r="1.76" fill="#fff" stroke="#111" stroke-width="0.8"/>
<circle cx="87.10" cy="458.80" r="1.76" fill="#fff" stroke="#111" stroke-width="0.8"/>
<circle cx="94.50" cy="472.60" r="1.76" fill="#fff" stroke="#111" stroke-width="0.8"/>
<circle cx="101.90" cy="483.40" r="1.76" fill="#fff" stroke="#111" stroke-width="0.8"/>
<circle cx="109.20" cy="486.80" r="1.76" fill="#fff" stroke="#111" stroke-width="0.8"/>
<path d="M57.30,440.80 L58.18,440.82 L59.06,440.85 L59.94,440.88 L60.82,440.92 L61.70,440.97 L62.58,441.03 L63.46,441.11 L64.34,441.20 L65.22,441.31 L66.10,441.44 L66.98,441.61 L67.86,441.81 L68.74,442.06 L69.62,442.36 L70.49,442.72 L71.37,443.16 L72.25,443.69 L73.13,444.33 L74.01,445.08 L74.89,445.98 L75.77,447.03 L76.65,448.25 L77.53,449.66 L78.41,451.26 L79.29,453.06 L80.17,455.04 L81.05,457.18 L81.93,459.47 L82.81,461.85 L83.69,464.27 L84.57,466.70 L85.45,469.08 L86.33,471.35 L87.21,473.49 L88.09,475.46 L88.97,477.24 L89.85,478.83 L90.73,480.22 L91.61,481.43 L92.49,482.47 L93.37,483.36 L94.25,484.11 L95.13,484.74 L96.01,485.26 L96.88,485.69 L97.76,486.05 L98.64,486.35 L99.52,486.59 L100.40,486.79 L101.28,486.96 L102.16,487.09 L103.04,487.20 L103.92,487.29 L104.80,487.36 L105.68,487.42 L106.56,487.47 L107.44,487.51 L108.32,487.54 L109.20,487.57" fill="none" stroke="#111" stroke-width="0.8"/>
<path d="M57.30,437.20 L59.30,440.70 L55.30,440.70 Z" fill="#fff" stroke="#111" stroke-width="0.8"/>
<path d="M64.60,439.80 L66.60,443.30 L62.60,443.30 Z" fill="#fff" stroke="#111" stroke-width="0.8"/>
<path d="M72.00,443.30 L74.00,446.80 L70.00,446.80 Z" fill="#fff" stroke="#111" stroke-width="0.8"/>
<path d="M79.40,450.20 L81.40,453.70 L77.40,453.70 Z" fill="#fff" stroke="#111" stroke-width="0.8"/>
<path d="M87.10,471.80 L89.10,475.30 L85.10,475.30 Z" fill="#fff" stroke="#111" stroke-width="0.8"/>
<path d="M94.50,482.20 L96.50,485.70 L92.50,485.70 Z" fill="#fff" stroke="#111" stroke-width="0.8"/>
<path d="M101.90,484.80 L103.90,488.30 L99.90,488.30 Z" fill="#fff" stroke="#111" stroke-width="0.8"/>
<path d="M109.20,485.70 L111.20,489.20 L107.20,489.20 Z" fill="#fff" stroke="#111" stroke-width="0.8"/>
<path d="M57.30,438.50 L58.18,438.67 L59.06,438.86 L59.94,439.08 L60.82,439.33 L61.70,439.61 L62.58,439.92 L63.46,440.27 L64.34,440.66 L65.22,441.10 L66.10,441.59 L66.98,442.14 L67.86,442.74 L68.74,443.40 L69.62,444.14 L70.49,444.94 L71.37,445.82 L72.25,446.77 L73.13,447.80 L74.01,448.91 L74.89,450.09 L75.77,451.35 L76.65,452.67 L77.53,454.06 L78.41,455.51 L79.29,457.00 L80.17,458.52 L81.05,460.07 L81.93,461.63 L82.81,463.18 L83.69,464.72 L84.57,466.23 L85.45,467.70 L86.33,469.13 L87.21,470.49 L88.09,471.79 L88.97,473.02 L89.85,474.17 L90.73,475.25 L91.61,476.25 L92.49,477.17 L93.37,478.02 L94.25,478.79 L95.13,479.49 L96.01,480.13 L96.88,480.71 L97.76,481.23 L98.64,481.70 L99.52,482.12 L100.40,482.50 L101.28,482.83 L102.16,483.13 L103.04,483.39 L103.92,483.63 L104.80,483.84 L105.68,484.02 L106.56,484.19 L107.44,484.33 L108.32,484.46 L109.20,484.57" fill="none" stroke="#111" stroke-width="0.8"/>
<path d="M57.30,440.70 L59.30,437.20 L55.30,437.20 Z" fill="#111" stroke="#111" stroke-width="0.8"/>
<path d="M64.60,442.50 L66.60,439.00 L62.60,439.00 Z" fill="#111" stroke="#111" stroke-width="0.8"/>
<path d="M72.00,448.20 L74.00,444.70 L70.00,444.70 Z" fill="#111" stroke="#111" stroke-width="0.8"/>
<path d="M79.40,460.30 L81.40,456.80 L77.40,456.80 Z" fill="#111" stroke="#111" stroke-width="0.8"/>
<path d="M87.10,470.70 L89.10,467.20 L85.10,467.20 Z" fill="#111" stroke="#111" stroke-width="0.8"/>
<path d="M94.50,481.90 L96.50,478.40 L92.50,478.40 Z" fill="#111" stroke="#111" stroke-width="0.8"/>
<path d="M101.90,486.20 L103.90,482.70 L99.90,482.70 Z" fill="#111" stroke="#111" stroke-width="0.8"/>
<path d="M109.20,485.40 L111.20,481.90 L107.20,481.90 Z" fill="#111" stroke="#111" stroke-width="0.8"/>
<line x1="64.60" y1="436.00" x2="64.60" y2="447.00" stroke="#111" stroke-width="0.8"/>
<line x1="63.10" y1="436.00" x2="66.10" y2="436.00" stroke="#111" stroke-width="0.8"/>
<line x1="63.10" y1="447.00" x2="66.10" y2="447.00" stroke="#111" stroke-width="0.8"/>
<rect x="100.03" y="484.63" width="3.74" height="3.74" fill="#111" stroke="#111" stroke-width="0.8"/>
<rect x="107.33" y="485.33" width="3.74" height="3.74" fill="#111" stroke="#111" stroke-width="0.8"/>
<text id="t106" x="41.62" y="512.70" font-size="8.2" textLength="67.82" lengthAdjust="spacingAndGlyphs" fill="#111" style="stroke-width:0.5px">SG3<tspan class="o">1</tspan>99 (nmol/L)</text>
<text id="t107" x="0" y="0" font-size="8.0" textLength="48.73" lengthAdjust="spacingAndGlyphs" fill="#111" style="stroke-width:0.3px" transform="translate(17.03,482.39) rotate(-90)">Viability (%)</text>
<line x1="112.50" y1="418.30" x2="120.50" y2="418.30" stroke="#333" stroke-width="1.1"/>
<ellipse cx="117.00" cy="418.30" rx="2.16" ry="1.80" fill="#777" stroke="#222" stroke-width="0.9"/>
<text id="t108" x="123.78" y="421.30" font-size="8.2" textLength="57.99" lengthAdjust="spacingAndGlyphs" fill="#111" style="stroke-width:0.5px">Control siRNA</text>
<line x1="112.50" y1="429.80" x2="120.50" y2="429.80" stroke="#333" stroke-width="1.1"/>
<polygon points="117.00,427.46 117.58,429.00 119.23,429.08 117.94,430.11 118.38,431.69 117.00,430.79 115.62,431.69 116.06,430.11 114.77,429.08 116.42,429.00" fill="#fff" stroke="#222" stroke-width="0.7"/>
<text id="t109" x="123.76" y="432.80" font-size="8.2" textLength="144.86" lengthAdjust="spacingAndGlyphs" fill="#111" style="stroke-width:0.5px">Control siRNA, 0.5 µmol/L AZD6738</text>
<line x1="112.50" y1="442.20" x2="120.50" y2="442.20" stroke="#333" stroke-width="1.1"/>
<path d="M117.00,439.95 L119.25,442.20 L117.00,444.45 L114.75,442.20 Z" fill="#888" stroke="#222" stroke-width="0.9"/>
<text id="t110" x="123.84" y="445.20" font-size="8.2" textLength="59.52" lengthAdjust="spacingAndGlyphs" fill="#111" style="stroke-width:0.5px">SLFN<tspan class="o">1</tspan><tspan class="o">1</tspan> siRNA</text>
<line x1="112.50" y1="453.20" x2="120.50" y2="453.20" stroke="#333" stroke-width="1.1"/>
<path d="M117.00,455.07 L118.88,451.79 L115.12,451.79 Z" fill="#222" stroke="#222" stroke-width="0.9"/>
<text id="t111" x="123.83" y="456.20" font-size="8.2" textLength="146.53" lengthAdjust="spacingAndGlyphs" fill="#111" style="stroke-width:0.5px">SLFN<tspan class="o">1</tspan><tspan class="o">1</tspan> siRNA, 0.5 µmol/L AZD6738</text>
<rect x="308.74" y="21.84" width="3.52" height="3.52" fill="#111" stroke="#111" stroke-width="0.8"/>
<rect x="315.64" y="22.14" width="3.52" height="3.52" fill="#111" stroke="#111" stroke-width="0.8"/>
<rect x="322.84" y="23.44" width="3.52" height="3.52" fill="#111" stroke="#111" stroke-width="0.8"/>
<rect x="174.34" y="23.04" width="3.52" height="3.52" fill="#111" stroke="#111" stroke-width="0.8"/>
<rect x="38.24" y="22.84" width="3.52" height="3.52" fill="#111" stroke="#111" stroke-width="0.8"/>
<rect x="46.61" y="303.11" width="4.18" height="4.18" fill="#111" stroke="#111" stroke-width="0.8"/>
<rect x="53.32" y="302.32" width="3.96" height="3.96" fill="#111" stroke="#111" stroke-width="0.8"/>
<rect x="300.41" y="306.21" width="4.18" height="4.18" fill="#111" stroke="#111" stroke-width="0.8"/>
<rect x="307.81" y="306.51" width="4.18" height="4.18" fill="#111" stroke="#111" stroke-width="0.8"/>
<rect x="322.21" y="308.91" width="4.18" height="4.18" fill="#111" stroke="#111" stroke-width="0.8"/>
<rect x="175.62" y="307.52" width="3.96" height="3.96" fill="#111" stroke="#111" stroke-width="0.8"/>
<rect x="182.62" y="307.92" width="3.96" height="3.96" fill="#111" stroke="#111" stroke-width="0.8"/>
<rect x="55.32" y="436.42" width="3.96" height="3.96" fill="#111" stroke="#111" stroke-width="0.8"/>
<rect x="62.73" y="437.73" width="3.74" height="3.74" fill="#111" stroke="#111" stroke-width="0.8"/>
</g>
</svg></body></html>
